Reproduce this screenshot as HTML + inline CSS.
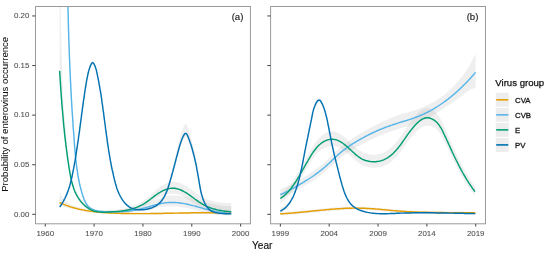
<!DOCTYPE html>
<html><head><meta charset="utf-8"><style>
html,body{margin:0;padding:0;background:#fff;width:550px;height:253px;overflow:hidden}
svg{display:block;filter:blur(0.35px)}
text{font-family:'Liberation Sans', Arial, Helvetica, sans-serif}
.tk{font-size:7.9px;fill:#505050;stroke:#505050;stroke-width:0.08px}
.at{font-size:10.1px;fill:#111;stroke:#111;stroke-width:0.15px}
.lt{font-size:9.6px;fill:#111;stroke:#111;stroke-width:0.25px}
.lg{font-size:7.8px;fill:#1a1a1a;stroke:#1a1a1a;stroke-width:0.3px}
.tag{font-size:9.6px;fill:#1a1a1a;stroke:#1a1a1a;stroke-width:0.15px}
</style></head><body>
<svg width="550" height="253" viewBox="0 0 550 253">
<defs>
<clipPath id="ca"><rect x="35.5" y="6.5" width="214.90" height="217.30"/></clipPath>
<clipPath id="cb"><rect x="270.6" y="6.5" width="214.90" height="217.30"/></clipPath>
</defs>
<rect x="0" y="0" width="550" height="253" fill="#ffffff"/>
<g clip-path="url(#ca)">
<path d="M59.5,192.5 60.1,193.2 60.7,194.3 61.3,195.4 61.9,196.5 62.6,197.4 63.2,198.2 63.8,199.0 64.4,199.8 65.1,200.6 65.7,201.4 66.3,202.0 66.9,202.3 67.6,202.7 68.2,203.1 68.8,203.5 69.5,203.9 70.1,204.2 70.7,204.6 71.4,204.9 72.0,205.3 72.6,205.5 73.3,205.7 73.9,205.9 74.6,206.1 75.2,206.3 75.8,206.5 76.5,206.7 77.1,206.9 77.8,207.1 78.4,207.2 79.1,207.4 79.7,207.6 80.4,207.7 81.0,207.9 81.7,208.1 82.3,208.2 83.0,208.4 83.6,208.5 84.3,208.7 85.0,208.8 85.6,208.9 86.3,209.1 86.9,209.2 87.6,209.3 88.2,209.5 88.9,209.6 89.6,209.7 90.2,209.8 90.9,209.9 91.5,210.0 92.2,210.2 92.9,210.3 93.5,210.4 94.2,210.5 94.9,210.6 95.5,210.7 96.2,210.8 96.8,210.8 97.5,210.9 98.2,211.0 98.8,211.1 99.5,211.2 100.2,211.3 100.8,211.3 101.5,211.4 102.2,211.4 102.8,211.5 103.5,211.5 104.2,211.6 104.8,211.6 105.5,211.7 106.2,211.7 106.8,211.7 107.5,211.8 108.2,211.8 108.9,211.9 109.5,211.9 110.2,211.9 110.9,212.0 111.5,212.0 112.2,212.0 112.9,212.1 113.5,212.1 114.2,212.1 114.9,212.1 115.5,212.2 116.2,212.2 116.9,212.2 117.5,212.3 118.2,212.3 118.9,212.3 119.6,212.3 120.2,212.3 120.9,212.4 121.6,212.4 122.2,212.4 122.9,212.4 123.6,212.4 124.2,212.4 124.9,212.5 125.6,212.5 126.2,212.5 126.9,212.5 127.6,212.5 128.2,212.5 128.9,212.5 129.6,212.5 130.3,212.6 130.9,212.6 131.6,212.6 132.3,212.6 132.9,212.6 133.6,212.6 134.3,212.6 134.9,212.6 135.6,212.6 136.3,212.6 136.9,212.6 137.6,212.6 138.3,212.6 138.9,212.6 139.6,212.6 140.3,212.6 141.0,212.6 141.6,212.6 142.3,212.6 143.0,212.6 143.6,212.6 144.3,212.6 145.0,212.6 145.6,212.6 146.3,212.6 147.0,212.6 147.6,212.6 148.3,212.6 149.0,212.6 149.6,212.6 150.3,212.6 151.0,212.5 151.6,212.5 152.3,212.5 153.0,212.5 153.7,212.5 154.3,212.5 155.0,212.5 155.7,212.5 156.3,212.5 157.0,212.5 157.7,212.4 158.3,212.4 159.0,212.4 159.7,212.4 160.3,212.4 161.0,212.4 161.7,212.4 162.3,212.4 163.0,212.4 163.7,212.3 164.4,212.3 165.0,212.3 165.7,212.3 166.4,212.3 167.0,212.3 167.7,212.3 168.4,212.3 169.0,212.2 169.7,212.2 170.4,212.2 171.0,212.2 171.7,212.2 172.4,212.2 173.0,212.2 173.7,212.1 174.4,212.1 175.1,212.1 175.7,212.1 176.4,212.1 177.1,212.1 177.7,212.1 178.4,212.1 179.1,212.0 179.7,212.0 180.4,212.0 181.1,212.0 181.7,212.0 182.4,212.0 183.1,212.0 183.7,211.9 184.4,211.9 185.1,211.9 185.7,211.9 186.4,211.9 187.1,211.9 187.8,211.9 188.4,211.9 189.1,211.9 189.8,211.9 190.4,211.8 191.1,211.8 191.8,211.8 192.4,211.8 193.1,211.8 193.8,211.8 194.4,211.8 195.1,211.8 195.8,211.8 196.4,211.8 197.1,211.8 197.8,211.8 198.5,211.7 199.1,211.7 199.8,211.7 200.5,211.7 201.1,211.7 201.8,211.7 202.5,211.7 203.1,211.7 203.8,211.7 204.5,211.7 205.1,211.7 205.8,211.7 206.5,211.7 207.1,211.7 207.8,211.7 208.5,211.7 209.1,211.7 209.8,211.7 210.5,211.7 211.1,211.7 211.8,211.7 212.5,211.7 213.2,211.8 213.8,211.8 214.5,211.8 215.2,211.8 215.8,211.8 216.5,211.8 217.2,211.8 217.8,211.8 218.5,211.8 219.2,211.8 219.8,211.9 220.5,211.9 221.2,211.9 221.8,211.9 222.5,211.9 223.2,211.9 223.8,211.9 224.5,212.0 225.2,212.0 225.8,212.0 226.5,212.0 227.2,212.1 227.9,212.1 228.5,212.1 229.2,212.1 229.9,212.2 230.5,212.2 231.2,212.2 231.2,214.2 230.5,214.2 229.9,214.2 229.2,214.1 228.5,214.1 227.9,214.1 227.2,214.1 226.5,214.0 225.8,214.0 225.2,214.0 224.5,214.0 223.8,213.9 223.2,213.9 222.5,213.9 221.8,213.9 221.2,213.9 220.5,213.9 219.8,213.9 219.2,213.8 218.5,213.8 217.8,213.8 217.2,213.8 216.5,213.8 215.8,213.8 215.2,213.8 214.5,213.8 213.8,213.8 213.2,213.8 212.5,213.7 211.8,213.7 211.1,213.7 210.5,213.7 209.8,213.7 209.1,213.7 208.5,213.7 207.8,213.7 207.1,213.7 206.5,213.7 205.8,213.7 205.1,213.7 204.5,213.7 203.8,213.7 203.1,213.7 202.5,213.7 201.8,213.7 201.1,213.7 200.5,213.7 199.8,213.7 199.1,213.7 198.5,213.7 197.8,213.8 197.1,213.8 196.4,213.8 195.8,213.8 195.1,213.8 194.4,213.8 193.8,213.8 193.1,213.8 192.4,213.8 191.8,213.8 191.1,213.8 190.4,213.8 189.8,213.9 189.1,213.9 188.4,213.9 187.8,213.9 187.1,213.9 186.4,213.9 185.7,213.9 185.1,213.9 184.4,213.9 183.7,213.9 183.1,214.0 182.4,214.0 181.7,214.0 181.1,214.0 180.4,214.0 179.7,214.0 179.1,214.0 178.4,214.1 177.7,214.1 177.1,214.1 176.4,214.1 175.7,214.1 175.1,214.1 174.4,214.1 173.7,214.1 173.0,214.2 172.4,214.2 171.7,214.2 171.0,214.2 170.4,214.2 169.7,214.2 169.0,214.2 168.4,214.3 167.7,214.3 167.0,214.3 166.4,214.3 165.7,214.3 165.0,214.3 164.4,214.3 163.7,214.3 163.0,214.4 162.3,214.4 161.7,214.4 161.0,214.4 160.3,214.4 159.7,214.4 159.0,214.4 158.3,214.4 157.7,214.4 157.0,214.5 156.3,214.5 155.7,214.5 155.0,214.5 154.3,214.5 153.7,214.5 153.0,214.5 152.3,214.5 151.6,214.5 151.0,214.5 150.3,214.6 149.6,214.6 149.0,214.6 148.3,214.6 147.6,214.6 147.0,214.6 146.3,214.6 145.6,214.6 145.0,214.6 144.3,214.6 143.6,214.6 143.0,214.6 142.3,214.6 141.6,214.6 141.0,214.6 140.3,214.6 139.6,214.6 138.9,214.6 138.3,214.6 137.6,214.6 136.9,214.6 136.3,214.6 135.6,214.6 134.9,214.6 134.3,214.6 133.6,214.6 132.9,214.6 132.3,214.6 131.6,214.6 130.9,214.6 130.3,214.6 129.6,214.5 128.9,214.5 128.2,214.5 127.6,214.5 126.9,214.5 126.2,214.5 125.6,214.5 124.9,214.5 124.2,214.4 123.6,214.4 122.9,214.4 122.2,214.4 121.6,214.4 120.9,214.4 120.2,214.3 119.6,214.3 118.9,214.3 118.2,214.3 117.5,214.3 116.9,214.2 116.2,214.2 115.5,214.2 114.9,214.1 114.2,214.1 113.5,214.1 112.9,214.1 112.2,214.0 111.5,214.0 110.9,214.0 110.2,213.9 109.5,213.9 108.9,213.9 108.2,213.8 107.5,213.8 106.8,213.7 106.2,213.7 105.5,213.7 104.8,213.6 104.2,213.6 103.5,213.5 102.8,213.5 102.2,213.4 101.5,213.4 100.8,213.3 100.2,213.3 99.5,213.2 98.8,213.2 98.2,213.1 97.5,213.1 96.8,213.0 96.2,213.0 95.5,212.9 94.9,212.8 94.2,212.8 93.5,212.7 92.9,212.6 92.2,212.6 91.5,212.5 90.9,212.4 90.2,212.3 89.6,212.3 88.9,212.2 88.2,212.1 87.6,212.0 86.9,211.9 86.3,211.8 85.6,211.7 85.0,211.6 84.3,211.5 83.6,211.4 83.0,211.3 82.3,211.2 81.7,211.0 81.0,210.9 80.4,210.8 79.7,210.7 79.1,210.5 78.4,210.4 77.8,210.3 77.1,210.1 76.5,210.0 75.8,209.8 75.2,209.7 74.6,209.5 73.9,209.3 73.3,209.2 72.6,209.0 72.0,208.8 71.4,208.7 70.7,208.5 70.1,208.4 69.5,208.2 68.8,208.0 68.2,207.9 67.6,207.7 66.9,207.5 66.3,207.4 65.7,207.2 65.1,207.0 64.4,206.9 63.8,206.7 63.2,206.5 62.6,206.3 61.9,206.1 61.3,206.0 60.7,205.9 60.1,205.7 59.5,205.5 Z" fill="#999999" fill-opacity="0.16" stroke="none"/>
<path d="M67.6,-22.0 67.6,-20.5 67.6,-19.1 67.6,-17.6 67.7,-16.2 67.7,-14.8 67.7,-13.3 67.7,-11.9 67.7,-10.4 67.8,-9.0 67.8,-7.5 67.8,-6.1 67.8,-4.6 67.9,-3.2 67.9,-1.7 67.9,-0.3 67.9,1.2 68.0,2.6 68.0,4.1 68.0,5.5 68.0,7.0 68.1,8.4 68.1,9.9 68.1,11.3 68.2,12.8 68.2,14.2 68.2,15.7 68.3,17.1 68.3,18.5 68.3,20.0 68.4,21.4 68.4,22.9 68.4,24.3 68.5,25.8 68.5,27.2 68.6,28.7 68.6,30.1 68.7,31.6 68.7,33.0 68.7,34.5 68.8,35.9 68.8,37.4 68.9,38.8 68.9,40.3 69.0,41.7 69.0,43.2 69.1,44.6 69.1,46.1 69.2,47.5 69.2,49.0 69.3,50.4 69.3,51.9 69.4,53.3 69.4,54.8 69.5,56.2 69.6,57.7 69.6,59.1 69.7,60.6 69.7,62.0 69.8,63.5 69.9,64.9 69.9,66.4 70.0,67.8 70.0,69.3 70.1,70.7 70.2,72.2 70.2,73.6 70.3,75.1 70.4,76.5 70.4,78.0 70.5,79.4 70.6,80.9 70.7,82.3 70.7,83.8 70.8,85.2 70.9,86.6 71.0,88.1 71.0,89.5 71.1,91.0 71.2,92.4 71.3,93.9 71.3,95.3 71.4,96.8 71.5,98.2 71.6,99.7 71.7,101.1 71.8,102.6 71.8,104.0 71.9,105.5 72.0,106.9 72.1,108.3 72.2,109.8 72.3,111.2 72.4,112.7 72.5,114.1 72.6,115.6 72.7,117.0 72.8,118.5 72.9,119.9 73.0,121.4 73.0,122.8 73.1,124.2 73.2,125.7 73.3,127.1 73.5,128.6 73.6,130.0 73.7,131.5 73.8,132.9 73.9,134.3 74.0,135.8 74.1,137.2 74.2,138.7 74.3,140.1 74.4,141.6 74.5,143.0 74.6,144.4 74.8,145.9 74.9,147.3 75.0,148.8 75.1,150.2 75.3,151.6 75.4,153.1 75.5,154.5 75.7,156.0 75.8,157.4 76.0,158.8 76.1,160.3 76.3,161.7 76.5,163.2 76.7,164.6 76.8,166.0 77.0,167.5 77.3,168.9 77.5,170.3 77.7,171.8 77.9,173.2 78.2,174.6 78.4,176.1 78.7,177.5 79.0,178.9 79.3,180.4 79.6,181.8 79.9,183.2 80.3,184.7 80.6,186.1 81.0,187.6 81.4,189.0 81.8,190.4 82.2,191.9 82.6,193.3 83.1,194.8 83.6,196.2 84.1,197.6 84.6,198.9 85.3,200.2 85.9,201.5 86.6,202.7 87.4,203.8 88.3,204.8 89.2,205.8 90.3,206.7 91.4,207.4 92.6,208.1 93.9,208.7 95.2,209.2 96.6,209.6 98.1,209.9 99.6,210.2 101.1,210.3 102.7,210.3 104.3,210.4 105.8,210.3 107.4,210.3 108.9,210.3 110.4,210.2 111.9,210.2 113.4,210.1 114.9,210.0 116.4,210.0 117.8,209.9 119.3,209.8 120.7,209.6 122.2,209.5 123.6,209.3 125.0,209.2 126.4,209.0 127.8,208.8 129.2,208.6 130.6,208.3 132.0,208.1 133.4,207.8 134.8,207.5 136.2,207.1 137.6,206.8 139.0,206.4 140.4,205.9 141.8,205.4 143.2,204.8 144.6,204.3 146.0,203.7 147.5,203.1 148.9,202.5 150.3,201.9 151.7,201.3 153.1,200.7 154.5,200.1 155.9,199.6 157.3,199.0 158.8,198.5 160.2,198.0 161.6,197.5 163.0,197.1 164.4,196.7 165.9,196.3 167.3,195.9 168.7,195.6 170.1,195.4 171.5,195.4 172.9,195.4 174.4,195.4 175.8,195.5 177.2,195.6 178.6,195.8 180.0,196.0 181.4,196.2 182.9,196.4 184.3,196.6 185.7,196.9 187.1,197.2 188.5,197.5 190.0,197.9 191.4,198.2 192.8,198.6 194.2,198.9 195.6,199.3 197.0,199.7 198.5,200.1 199.9,200.5 201.3,200.9 202.7,201.3 204.1,201.7 205.5,202.0 207.0,202.4 208.4,202.8 209.8,203.2 211.2,203.5 212.6,203.8 214.1,204.2 215.5,204.5 216.9,204.8 218.3,205.0 219.8,205.3 221.2,205.5 222.6,205.7 224.0,205.8 225.4,206.0 226.9,206.1 228.3,206.1 229.7,206.2 231.2,206.1 231.2,215.1 229.7,215.2 228.3,215.3 226.9,215.3 225.4,215.3 224.0,215.3 222.6,215.2 221.2,215.1 219.8,215.0 218.3,214.8 216.9,214.7 215.5,214.5 214.1,214.3 212.6,214.0 211.2,213.8 209.8,213.5 208.4,213.3 207.0,213.0 205.5,212.7 204.1,212.4 202.7,212.1 201.3,211.8 199.9,211.5 198.5,211.1 197.0,210.7 195.6,210.3 194.2,209.9 192.8,209.6 191.4,209.2 190.0,208.9 188.5,208.5 187.1,208.2 185.7,207.9 184.3,207.6 182.9,207.4 181.4,207.2 180.0,207.0 178.6,206.8 177.2,206.6 175.8,206.5 174.4,206.4 172.9,206.4 171.5,206.4 170.1,206.4 168.7,206.4 167.3,206.4 165.9,206.5 164.4,206.6 163.0,206.7 161.6,206.9 160.2,207.0 158.8,207.3 157.3,207.5 155.9,207.8 154.5,208.1 153.1,208.3 151.7,208.6 150.3,209.0 148.9,209.3 147.5,209.6 146.0,209.9 144.6,210.2 143.2,210.5 141.8,210.8 140.4,211.0 139.0,211.3 137.6,211.6 136.2,211.8 134.8,212.1 133.4,212.3 132.0,212.5 130.6,212.6 129.2,212.8 127.8,212.9 126.4,213.0 125.0,213.1 123.6,213.1 122.2,213.2 120.7,213.2 119.3,213.2 117.8,213.2 116.4,213.2 114.9,213.2 113.4,213.1 111.9,213.1 110.4,213.0 108.9,212.9 107.4,212.9 105.8,212.8 104.3,212.7 102.7,212.6 101.1,212.4 99.6,212.2 98.1,212.1 96.6,211.9 95.2,211.6 93.9,211.3 92.6,210.8 91.4,210.3 90.3,209.6 89.2,208.9 88.3,208.0 87.4,207.1 86.6,206.0 85.9,204.9 85.3,203.7 84.6,202.5 84.1,201.2 83.6,199.8 83.1,198.5 82.6,197.1 82.2,195.7 81.8,194.3 81.4,192.9 81.0,191.5 80.6,190.0 80.3,188.6 79.9,187.2 79.6,185.8 79.3,184.4 79.0,182.9 78.7,181.5 78.4,180.1 78.2,178.6 77.9,177.2 77.7,175.8 77.5,174.3 77.3,172.9 77.0,171.5 76.8,170.0 76.7,168.6 76.5,167.2 76.3,165.7 76.1,164.3 76.0,162.8 75.8,161.4 75.7,160.0 75.5,158.5 75.4,157.1 75.3,155.6 75.1,154.2 75.0,152.8 74.9,151.3 74.8,149.9 74.6,148.4 74.5,147.0 74.4,145.6 74.3,144.1 74.2,142.7 74.1,141.2 74.0,139.8 73.9,138.3 73.8,136.9 73.7,135.5 73.6,134.0 73.5,132.6 73.3,131.1 73.2,129.7 73.1,128.2 73.0,126.8 73.0,125.4 72.9,123.9 72.8,122.5 72.7,121.0 72.6,119.6 72.5,118.1 72.4,116.7 72.3,115.2 72.2,113.8 72.1,112.3 72.0,110.9 71.9,109.5 71.8,108.0 71.8,106.6 71.7,105.1 71.6,103.7 71.5,102.2 71.4,100.8 71.3,99.3 71.3,97.9 71.2,96.4 71.1,95.0 71.0,93.5 71.0,92.1 70.9,90.6 70.8,89.2 70.7,87.8 70.7,86.3 70.6,84.9 70.5,83.4 70.4,82.0 70.4,80.5 70.3,79.1 70.2,77.6 70.2,76.2 70.1,74.7 70.0,73.3 70.0,71.8 69.9,70.4 69.9,68.9 69.8,67.5 69.7,66.0 69.7,64.6 69.6,63.1 69.6,61.7 69.5,60.2 69.4,58.8 69.4,57.3 69.3,55.9 69.3,54.4 69.2,53.0 69.2,51.5 69.1,50.1 69.1,48.6 69.0,47.2 69.0,45.7 68.9,44.3 68.9,42.8 68.8,41.4 68.8,39.9 68.7,38.5 68.7,37.0 68.7,35.6 68.6,34.1 68.6,32.7 68.5,31.2 68.5,29.8 68.4,28.3 68.4,26.9 68.4,25.4 68.3,24.0 68.3,22.5 68.3,21.1 68.2,19.7 68.2,18.2 68.2,16.8 68.1,15.3 68.1,13.9 68.1,12.4 68.0,11.0 68.0,9.5 68.0,8.1 68.0,6.6 67.9,5.2 67.9,3.7 67.9,2.3 67.9,0.8 67.8,-0.6 67.8,-2.1 67.8,-3.5 67.8,-5.0 67.7,-6.4 67.7,-7.9 67.7,-9.3 67.7,-10.8 67.7,-12.2 67.6,-13.6 67.6,-15.1 67.6,-16.5 67.6,-18.0 Z" fill="#999999" fill-opacity="0.16" stroke="none"/>
<path d="M59.6,-129.1 59.7,-127.9 59.8,-119.4 59.8,-110.4 59.9,-101.4 60.0,-92.4 60.1,-83.3 60.1,-74.1 60.2,-64.9 60.3,-55.7 60.4,-46.4 60.4,-37.1 60.5,-27.7 60.6,-18.3 60.7,-8.8 60.7,0.8 60.8,10.4 60.9,20.1 61.0,29.9 61.1,34.2 61.1,37.0 61.2,39.8 61.3,42.6 61.4,45.4 61.5,48.3 61.6,51.1 61.7,54.0 61.7,56.9 61.8,59.8 61.9,62.7 62.0,65.7 62.1,68.7 62.2,71.6 62.3,74.6 62.4,77.7 62.5,80.7 62.6,83.8 62.7,86.9 62.8,90.0 62.9,93.2 63.0,96.3 63.1,98.3 63.2,99.7 63.3,101.1 63.4,102.5 63.5,103.9 63.6,105.3 63.7,106.7 63.8,108.2 63.9,109.6 64.1,111.0 64.2,112.4 64.3,113.8 64.4,115.3 64.5,116.7 64.6,118.1 64.8,119.6 64.9,121.0 65.0,122.5 65.2,124.0 65.3,125.4 65.4,126.9 65.6,128.3 65.7,129.8 65.8,131.3 66.0,132.8 66.1,134.3 66.3,135.8 66.4,137.3 66.5,138.8 66.7,140.3 66.9,141.8 67.0,143.3 67.2,144.9 67.3,146.4 67.5,147.9 67.6,149.5 67.8,151.0 68.0,152.6 68.1,154.1 68.3,155.7 68.5,157.3 68.7,158.9 68.8,160.4 69.0,162.0 69.2,163.6 69.4,165.2 69.6,166.9 69.8,168.5 70.0,170.1 70.2,171.4 70.4,172.5 70.6,173.7 70.8,174.8 71.1,176.0 71.3,177.2 71.6,178.3 71.9,179.4 72.2,180.6 72.5,181.7 72.8,182.8 73.2,183.9 73.5,185.1 73.9,186.2 74.3,187.3 74.7,188.3 75.2,189.4 75.7,190.5 76.1,191.5 76.7,192.6 77.2,193.6 77.8,194.6 78.4,195.6 79.0,196.6 79.7,197.6 80.3,198.5 81.1,199.5 81.8,200.4 82.6,201.3 83.4,202.2 84.2,203.0 85.1,203.9 86.0,204.7 86.9,205.4 87.8,206.1 88.8,206.8 89.7,207.5 90.8,208.1 91.8,208.6 92.8,209.1 93.9,209.6 95.0,210.0 96.1,210.3 97.2,210.6 98.4,210.8 99.5,211.0 100.7,211.1 101.9,211.1 103.1,211.0 104.2,211.0 105.4,210.9 106.6,210.8 107.8,210.7 109.0,210.6 110.2,210.4 111.3,210.3 112.5,210.2 113.7,210.1 114.8,209.9 116.0,209.8 117.1,209.6 118.3,209.5 119.4,209.3 120.6,209.1 121.7,208.9 122.9,208.7 124.0,208.4 125.2,208.2 126.3,207.9 127.4,207.7 128.6,207.4 129.7,207.0 130.8,206.7 131.9,206.4 133.0,206.0 134.1,205.6 135.2,205.2 136.3,204.7 137.3,204.3 138.4,203.8 139.4,203.3 140.4,202.7 141.5,202.1 142.5,201.4 143.5,200.7 144.4,200.0 145.4,199.3 146.4,198.6 147.3,197.8 148.2,197.0 149.2,196.2 150.1,195.4 151.0,194.6 151.9,193.7 152.9,192.9 153.8,192.1 154.7,191.3 155.7,190.5 156.6,189.7 157.6,188.9 158.6,188.2 159.6,187.5 160.6,186.7 161.6,186.1 162.6,185.4 163.7,184.8 164.8,184.2 165.9,183.7 167.0,183.2 168.1,182.8 169.2,182.4 170.3,182.1 171.4,181.9 172.5,181.7 173.6,181.7 174.7,181.8 175.7,181.9 176.8,182.1 177.8,182.3 178.9,182.6 179.9,183.0 180.9,183.4 182.0,183.8 183.0,184.3 184.0,184.8 185.0,185.4 186.0,186.0 187.0,186.6 188.0,187.2 188.9,187.9 189.9,188.6 190.9,189.3 191.9,190.0 192.9,190.7 193.9,191.4 194.8,192.1 195.8,192.8 196.8,193.5 197.8,194.1 198.8,194.8 199.8,195.5 200.7,196.0 201.7,196.6 202.7,197.1 203.7,197.7 204.7,198.1 205.8,198.6 206.8,199.0 207.8,199.4 208.8,199.8 209.9,200.2 210.9,200.5 212.0,200.8 213.0,201.1 214.1,201.4 215.2,201.6 216.3,201.8 217.3,202.0 218.4,202.2 219.6,202.4 220.7,202.5 221.8,202.7 223.0,202.8 224.1,202.9 225.3,203.0 226.5,203.0 227.6,203.1 228.8,203.1 230.1,203.1 231.3,203.2 231.3,214.7 230.1,214.7 228.8,214.6 227.6,214.6 226.5,214.6 225.3,214.5 224.1,214.5 223.0,214.4 221.8,214.3 220.7,214.2 219.6,214.1 218.4,213.9 217.3,213.8 216.3,213.6 215.2,213.4 214.1,213.1 213.0,212.9 212.0,212.6 210.9,212.3 209.9,212.0 208.8,211.7 207.8,211.3 206.8,210.9 205.8,210.5 204.7,210.1 203.7,209.6 202.7,209.1 201.7,208.6 200.7,208.0 199.8,207.5 198.8,206.8 197.8,206.1 196.8,205.5 195.8,204.8 194.8,204.1 193.9,203.4 192.9,202.7 191.9,202.0 190.9,201.3 189.9,200.6 188.9,199.9 188.0,199.2 187.0,198.6 186.0,198.0 185.0,197.4 184.0,196.8 183.0,196.3 182.0,195.8 180.9,195.4 179.9,195.0 178.9,194.6 177.8,194.3 176.8,194.1 175.7,193.9 174.7,193.8 173.6,193.7 172.5,193.7 171.4,193.7 170.3,193.7 169.2,193.8 168.1,193.9 167.0,194.1 165.9,194.4 164.8,194.7 163.7,195.0 162.6,195.4 161.6,195.8 160.6,196.2 159.6,196.7 158.6,197.2 157.6,197.8 156.6,198.3 155.7,198.9 154.7,199.5 153.8,200.1 152.9,200.7 151.9,201.4 151.0,202.0 150.1,202.6 149.2,203.2 148.2,203.8 147.3,204.4 146.4,204.9 145.4,205.5 144.4,206.0 143.5,206.5 142.5,207.0 141.5,207.4 140.4,207.8 139.4,208.2 138.4,208.6 137.3,209.1 136.3,209.4 135.2,209.8 134.1,210.1 133.0,210.5 131.9,210.7 130.8,211.0 129.7,211.3 128.6,211.5 127.4,211.7 126.3,211.9 125.2,212.1 124.0,212.2 122.9,212.4 121.7,212.5 120.6,212.6 119.4,212.7 118.3,212.8 117.1,212.9 116.0,213.0 114.8,213.0 113.7,213.1 112.5,213.1 111.3,213.2 110.2,213.2 109.0,213.2 107.8,213.3 106.6,213.3 105.4,213.3 104.2,213.3 103.1,213.3 101.9,213.2 100.7,213.1 99.5,213.1 98.4,213.0 97.2,212.9 96.1,212.7 95.0,212.5 93.9,212.2 92.8,211.8 91.8,211.4 90.8,211.0 89.7,210.5 88.8,209.9 87.8,209.4 86.9,208.7 86.0,208.1 85.1,207.4 84.2,206.6 83.4,205.9 82.6,205.1 81.8,204.2 81.1,203.4 80.3,202.5 79.7,201.6 79.0,200.7 78.4,199.8 77.8,198.8 77.2,197.9 76.7,196.9 76.1,195.9 75.7,194.9 75.2,193.9 74.7,192.9 74.3,191.8 73.9,190.8 73.5,189.7 73.2,188.6 72.8,187.5 72.5,186.5 72.2,185.4 71.9,184.3 71.6,183.1 71.3,182.0 71.1,180.9 70.8,179.8 70.6,178.6 70.4,177.5 70.2,176.3 70.0,175.2 69.8,174.0 69.6,172.9 69.4,171.7 69.2,170.6 69.0,169.4 68.8,168.3 68.7,167.1 68.5,166.0 68.3,164.8 68.1,163.6 68.0,162.5 67.8,161.3 67.6,160.2 67.5,159.0 67.3,157.9 67.2,156.7 67.0,155.6 66.9,154.5 66.7,153.3 66.5,152.2 66.4,151.0 66.3,149.9 66.1,148.7 66.0,147.6 65.8,146.4 65.7,145.3 65.6,144.1 65.4,143.0 65.3,141.9 65.2,140.7 65.0,139.6 64.9,138.4 64.8,137.3 64.6,136.1 64.5,135.0 64.4,133.9 64.3,132.7 64.2,131.6 64.1,130.4 63.9,129.3 63.8,128.2 63.7,127.0 63.6,125.9 63.5,124.7 63.4,123.6 63.3,122.4 63.2,121.3 63.1,120.2 63.0,119.0 62.9,117.9 62.8,116.8 62.7,115.8 62.6,114.7 62.5,113.6 62.4,112.5 62.3,111.4 62.2,110.3 62.1,109.2 62.0,108.1 61.9,107.0 61.8,105.9 61.7,104.8 61.7,103.7 61.6,102.6 61.5,101.5 61.4,100.4 61.3,99.2 61.2,98.1 61.1,97.0 61.1,95.9 61.0,94.8 60.9,93.7 60.8,92.6 60.7,91.5 60.7,90.4 60.6,89.3 60.5,88.2 60.4,87.2 60.4,86.1 60.3,85.0 60.2,83.8 60.1,82.7 60.1,81.6 60.0,80.5 59.9,79.4 59.8,78.3 59.8,77.2 59.7,76.1 59.6,74.9 Z" fill="#999999" fill-opacity="0.16" stroke="none"/>
<path d="M59.7,203.3 60.9,202.0 62.0,200.7 63.0,199.2 64.0,197.7 64.9,196.2 65.7,194.6 66.5,192.9 67.3,191.1 67.9,189.3 68.6,187.5 69.2,185.6 69.8,183.7 70.3,181.9 70.8,180.0 71.3,178.1 71.7,176.2 72.1,174.2 72.5,172.3 72.9,170.4 73.3,168.4 73.7,166.5 74.0,164.6 74.4,162.6 74.7,160.7 75.1,158.8 75.4,156.8 75.7,154.9 76.0,152.9 76.3,151.0 76.6,149.1 76.9,147.1 77.2,145.2 77.5,143.2 77.8,141.3 78.1,139.3 78.4,137.4 78.6,135.4 78.9,133.5 79.2,131.5 79.5,129.6 79.7,127.6 80.0,125.7 80.2,123.7 80.5,121.7 80.8,119.7 81.0,117.8 81.3,115.8 81.5,113.8 81.8,111.8 82.1,109.8 82.3,107.8 82.6,105.9 82.9,103.9 83.1,101.9 83.4,99.9 83.7,97.9 84.0,96.0 84.3,94.0 84.5,92.0 84.8,90.0 85.1,88.0 85.4,86.1 85.8,84.1 86.1,82.1 86.4,80.1 86.7,78.1 87.1,76.2 87.5,74.2 87.9,72.3 88.3,70.3 88.8,68.4 89.4,66.4 90.1,64.3 91.0,62.1 92.0,60.4 93.1,60.4 94.1,61.9 95.1,64.1 95.8,66.2 96.4,68.2 96.8,70.2 97.2,72.1 97.6,74.1 98.0,76.0 98.4,78.0 98.8,80.0 99.1,81.9 99.5,83.9 99.8,85.9 100.1,87.9 100.5,89.8 100.8,91.8 101.1,93.8 101.4,95.8 101.7,97.8 101.9,99.7 102.2,101.7 102.5,103.7 102.8,105.7 103.0,107.7 103.3,109.7 103.6,111.6 103.8,113.6 104.1,115.6 104.3,117.6 104.6,119.6 104.9,121.6 105.1,123.6 105.4,125.5 105.6,127.5 105.9,129.5 106.2,131.5 106.4,133.5 106.7,135.5 107.0,137.5 107.2,139.4 107.5,141.4 107.8,143.4 108.1,145.4 108.4,147.4 108.7,149.3 109.0,151.3 109.3,153.3 109.7,155.3 110.0,157.3 110.3,159.2 110.7,161.1 111.1,163.1 111.4,165.0 111.8,167.0 112.2,168.9 112.7,170.8 113.1,172.7 113.5,174.7 114.0,176.6 114.4,178.5 114.9,180.4 115.4,182.3 116.0,184.2 116.5,186.1 117.1,188.0 117.8,189.8 118.6,191.7 119.4,193.5 120.3,195.3 121.3,197.0 122.3,198.7 123.5,200.4 124.8,202.0 126.2,203.4 127.6,204.7 129.2,205.8 130.9,206.8 132.6,207.5 134.4,208.1 136.3,208.5 138.3,208.7 140.3,208.7 142.3,208.6 144.4,208.4 146.5,208.0 148.5,207.5 150.5,206.8 152.4,206.1 154.2,205.2 156.0,204.1 157.5,203.0 159.0,201.7 160.3,200.4 161.6,198.9 162.7,197.3 163.7,195.7 164.7,194.0 165.5,192.0 166.3,190.0 167.1,187.9 167.8,185.8 168.4,183.7 169.0,181.5 169.6,179.4 170.2,177.3 170.7,175.2 171.3,173.1 171.8,171.0 172.3,168.9 172.9,166.8 173.4,164.8 173.9,162.7 174.4,160.7 174.9,158.6 175.4,156.5 175.9,154.4 176.4,152.3 176.9,150.3 177.4,148.2 177.9,146.1 178.4,144.0 178.9,141.9 179.4,139.8 180.0,137.7 180.6,135.5 181.3,133.2 182.1,130.8 183.0,128.3 184.0,125.9 185.1,124.1 186.1,124.2 187.1,125.8 188.0,128.1 188.8,130.6 189.6,133.0 190.2,135.2 190.9,137.4 191.5,139.5 192.0,141.6 192.5,143.7 193.0,145.7 193.5,147.8 194.0,149.9 194.5,152.0 194.9,154.1 195.3,156.2 195.8,158.4 196.2,160.5 196.6,162.6 196.9,164.7 197.3,166.7 197.7,168.8 198.0,170.9 198.4,172.9 198.7,175.0 199.0,177.0 199.3,179.0 199.6,181.0 200.0,183.0 200.3,185.0 200.7,187.0 201.1,189.1 201.6,191.1 202.2,193.2 202.8,195.3 203.5,197.4 204.3,199.5 205.2,201.6 206.2,203.3 207.3,204.9 208.6,206.3 210.1,207.5 211.7,208.4 213.4,209.2 215.3,209.8 217.2,210.2 219.2,210.5 221.3,210.6 223.3,210.7 225.4,210.8 227.4,210.8 229.3,210.8 231.2,210.9 231.2,214.9 229.3,214.8 227.4,214.9 225.4,214.9 223.3,214.9 221.3,214.8 219.2,214.7 217.2,214.4 215.3,214.1 213.4,213.5 211.7,212.8 210.1,211.9 208.6,210.7 207.3,209.3 206.2,207.8 205.2,206.1 204.3,204.3 203.5,202.5 202.8,200.6 202.2,198.8 201.6,196.9 201.1,195.0 200.7,193.2 200.3,191.3 200.0,189.5 199.6,187.6 199.3,185.7 199.0,183.8 198.7,181.9 198.4,180.0 198.0,178.1 197.7,176.2 197.3,174.2 196.9,172.3 196.6,170.4 196.2,168.4 195.8,166.5 195.3,164.6 194.9,162.7 194.5,160.9 194.0,159.0 193.5,157.2 193.0,155.4 192.5,153.6 192.0,151.9 191.5,150.1 190.9,148.4 190.2,146.5 189.6,144.7 188.8,142.7 188.0,140.5 187.1,138.6 186.1,137.4 185.1,137.5 184.0,138.8 183.0,140.7 182.1,142.8 181.3,144.8 180.6,146.7 180.0,148.5 179.4,150.3 178.9,152.2 178.4,154.0 177.9,155.7 177.4,157.5 176.9,159.3 176.4,161.1 175.9,163.0 175.4,164.8 174.9,166.6 174.4,168.4 173.9,170.3 173.4,172.1 172.9,174.0 172.3,175.8 171.8,177.7 171.3,179.6 170.7,181.5 170.2,183.4 169.6,185.3 169.0,187.2 168.4,189.0 167.8,190.9 167.1,192.7 166.3,194.5 165.5,196.2 164.7,197.9 163.7,199.6 162.7,201.1 161.6,202.6 160.3,204.0 159.0,205.3 157.5,206.4 156.0,207.4 154.2,208.3 152.4,209.1 150.5,209.7 148.5,210.1 146.5,210.5 144.4,210.7 142.3,210.8 140.3,210.8 138.3,210.7 136.3,210.5 134.4,210.1 132.6,209.5 130.9,208.8 129.2,207.8 127.6,206.7 126.2,205.4 124.8,204.0 123.5,202.4 122.3,200.7 121.3,199.0 120.3,197.3 119.4,195.5 118.6,193.7 117.8,191.8 117.1,190.0 116.5,188.1 116.0,186.2 115.4,184.3 114.9,182.4 114.4,180.5 114.0,178.6 113.5,176.7 113.1,174.7 112.7,172.8 112.2,170.9 111.8,169.0 111.4,167.0 111.1,165.1 110.7,163.1 110.3,161.2 110.0,159.3 109.7,157.3 109.3,155.4 109.0,153.4 108.7,151.5 108.4,149.5 108.1,147.6 107.8,145.6 107.5,143.7 107.2,141.7 107.0,139.8 106.7,137.8 106.4,135.9 106.2,133.9 105.9,132.0 105.6,130.0 105.4,128.1 105.1,126.1 104.9,124.1 104.6,122.2 104.3,120.2 104.1,118.3 103.8,116.3 103.6,114.4 103.3,112.4 103.0,110.4 102.8,108.5 102.5,106.5 102.2,104.6 101.9,102.6 101.7,100.7 101.4,98.7 101.1,96.8 100.8,94.8 100.5,92.9 100.1,91.0 99.8,89.0 99.5,87.1 99.1,85.2 98.8,83.2 98.4,81.3 98.0,79.4 97.6,77.5 97.2,75.6 96.8,73.7 96.4,71.8 95.8,69.8 95.1,67.7 94.1,65.7 93.1,64.3 92.0,64.4 91.0,66.0 90.1,68.1 89.4,70.2 88.8,72.1 88.3,74.0 87.9,75.9 87.5,77.8 87.1,79.8 86.7,81.7 86.4,83.6 86.1,85.6 85.8,87.5 85.4,89.5 85.1,91.5 84.8,93.4 84.5,95.4 84.3,97.3 84.0,99.3 83.7,101.2 83.4,103.2 83.1,105.2 82.9,107.1 82.6,109.1 82.3,111.0 82.1,113.0 81.8,115.0 81.5,116.9 81.3,118.9 81.0,120.8 80.8,122.8 80.5,124.8 80.2,126.7 80.0,128.7 79.7,130.6 79.5,132.6 79.2,134.5 78.9,136.5 78.6,138.4 78.4,140.4 78.1,142.3 77.8,144.3 77.5,146.2 77.2,148.2 76.9,150.1 76.6,152.1 76.3,154.0 76.0,155.9 75.7,157.9 75.4,159.8 75.1,161.8 74.7,163.7 74.4,165.6 74.0,167.6 73.7,169.5 73.3,171.4 72.9,173.4 72.5,175.3 72.1,177.2 71.7,179.2 71.3,181.1 70.8,183.0 70.3,184.9 69.8,186.7 69.2,188.6 68.6,190.5 67.9,192.3 67.3,194.1 66.5,195.9 65.7,197.7 64.9,199.6 64.0,201.5 63.0,203.3 62.0,205.2 60.9,207.0 59.7,208.9 Z" fill="#999999" fill-opacity="0.16" stroke="none"/>
<path d="M59.5,202.5 60.1,202.8 60.7,203.1 61.3,203.3 61.9,203.6 62.6,203.9 63.2,204.1 63.8,204.4 64.4,204.7 65.1,204.9 65.7,205.1 66.3,205.4 66.9,205.6 67.6,205.8 68.2,206.1 68.8,206.3 69.5,206.5 70.1,206.7 70.7,206.9 71.4,207.1 72.0,207.3 72.6,207.5 73.3,207.7 73.9,207.9 74.6,208.0 75.2,208.2 75.8,208.4 76.5,208.5 77.1,208.7 77.8,208.9 78.4,209.0 79.1,209.2 79.7,209.3 80.4,209.4 81.0,209.6 81.7,209.7 82.3,209.9 83.0,210.0 83.6,210.1 84.3,210.2 85.0,210.3 85.6,210.5 86.3,210.6 86.9,210.7 87.6,210.8 88.2,210.9 88.9,211.0 89.6,211.1 90.2,211.2 90.9,211.3 91.5,211.3 92.2,211.4 92.9,211.5 93.5,211.6 94.2,211.7 94.9,211.7 95.5,211.8 96.2,211.9 96.8,212.0 97.5,212.0 98.2,212.1 98.8,212.1 99.5,212.2 100.2,212.3 100.8,212.3 101.5,212.4 102.2,212.4 102.8,212.5 103.5,212.5 104.2,212.6 104.8,212.6 105.5,212.7 106.2,212.7 106.8,212.7 107.5,212.8 108.2,212.8 108.9,212.9 109.5,212.9 110.2,212.9 110.9,213.0 111.5,213.0 112.2,213.0 112.9,213.1 113.5,213.1 114.2,213.1 114.9,213.1 115.5,213.2 116.2,213.2 116.9,213.2 117.5,213.3 118.2,213.3 118.9,213.3 119.6,213.3 120.2,213.3 120.9,213.4 121.6,213.4 122.2,213.4 122.9,213.4 123.6,213.4 124.2,213.4 124.9,213.5 125.6,213.5 126.2,213.5 126.9,213.5 127.6,213.5 128.2,213.5 128.9,213.5 129.6,213.5 130.3,213.6 130.9,213.6 131.6,213.6 132.3,213.6 132.9,213.6 133.6,213.6 134.3,213.6 134.9,213.6 135.6,213.6 136.3,213.6 136.9,213.6 137.6,213.6 138.3,213.6 138.9,213.6 139.6,213.6 140.3,213.6 141.0,213.6 141.6,213.6 142.3,213.6 143.0,213.6 143.6,213.6 144.3,213.6 145.0,213.6 145.6,213.6 146.3,213.6 147.0,213.6 147.6,213.6 148.3,213.6 149.0,213.6 149.6,213.6 150.3,213.6 151.0,213.5 151.6,213.5 152.3,213.5 153.0,213.5 153.7,213.5 154.3,213.5 155.0,213.5 155.7,213.5 156.3,213.5 157.0,213.5 157.7,213.4 158.3,213.4 159.0,213.4 159.7,213.4 160.3,213.4 161.0,213.4 161.7,213.4 162.3,213.4 163.0,213.4 163.7,213.3 164.4,213.3 165.0,213.3 165.7,213.3 166.4,213.3 167.0,213.3 167.7,213.3 168.4,213.3 169.0,213.2 169.7,213.2 170.4,213.2 171.0,213.2 171.7,213.2 172.4,213.2 173.0,213.2 173.7,213.1 174.4,213.1 175.1,213.1 175.7,213.1 176.4,213.1 177.1,213.1 177.7,213.1 178.4,213.1 179.1,213.0 179.7,213.0 180.4,213.0 181.1,213.0 181.7,213.0 182.4,213.0 183.1,213.0 183.7,212.9 184.4,212.9 185.1,212.9 185.7,212.9 186.4,212.9 187.1,212.9 187.8,212.9 188.4,212.9 189.1,212.9 189.8,212.9 190.4,212.8 191.1,212.8 191.8,212.8 192.4,212.8 193.1,212.8 193.8,212.8 194.4,212.8 195.1,212.8 195.8,212.8 196.4,212.8 197.1,212.8 197.8,212.8 198.5,212.7 199.1,212.7 199.8,212.7 200.5,212.7 201.1,212.7 201.8,212.7 202.5,212.7 203.1,212.7 203.8,212.7 204.5,212.7 205.1,212.7 205.8,212.7 206.5,212.7 207.1,212.7 207.8,212.7 208.5,212.7 209.1,212.7 209.8,212.7 210.5,212.7 211.1,212.7 211.8,212.7 212.5,212.7 213.2,212.8 213.8,212.8 214.5,212.8 215.2,212.8 215.8,212.8 216.5,212.8 217.2,212.8 217.8,212.8 218.5,212.8 219.2,212.8 219.8,212.9 220.5,212.9 221.2,212.9 221.8,212.9 222.5,212.9 223.2,212.9 223.8,212.9 224.5,213.0 225.2,213.0 225.8,213.0 226.5,213.0 227.2,213.1 227.9,213.1 228.5,213.1 229.2,213.1 229.9,213.2 230.5,213.2 231.2,213.2" fill="none" stroke="#E69F00" stroke-width="1.45" stroke-linejoin="round" stroke-linecap="butt"/>
<path d="M67.6,-20.0 67.6,-18.5 67.6,-17.1 67.6,-15.6 67.7,-14.2 67.7,-12.8 67.7,-11.3 67.7,-9.9 67.7,-8.4 67.8,-7.0 67.8,-5.5 67.8,-4.1 67.8,-2.6 67.9,-1.2 67.9,0.3 67.9,1.7 67.9,3.2 68.0,4.6 68.0,6.1 68.0,7.5 68.0,9.0 68.1,10.4 68.1,11.9 68.1,13.3 68.2,14.8 68.2,16.2 68.2,17.7 68.3,19.1 68.3,20.5 68.3,22.0 68.4,23.4 68.4,24.9 68.4,26.3 68.5,27.8 68.5,29.2 68.6,30.7 68.6,32.1 68.7,33.6 68.7,35.0 68.7,36.5 68.8,37.9 68.8,39.4 68.9,40.8 68.9,42.3 69.0,43.7 69.0,45.2 69.1,46.6 69.1,48.1 69.2,49.5 69.2,51.0 69.3,52.4 69.3,53.9 69.4,55.3 69.4,56.8 69.5,58.2 69.6,59.7 69.6,61.1 69.7,62.6 69.7,64.0 69.8,65.5 69.9,66.9 69.9,68.4 70.0,69.8 70.0,71.3 70.1,72.7 70.2,74.2 70.2,75.6 70.3,77.1 70.4,78.5 70.4,80.0 70.5,81.4 70.6,82.9 70.7,84.3 70.7,85.8 70.8,87.2 70.9,88.6 71.0,90.1 71.0,91.5 71.1,93.0 71.2,94.4 71.3,95.9 71.3,97.3 71.4,98.8 71.5,100.2 71.6,101.7 71.7,103.1 71.8,104.6 71.8,106.0 71.9,107.5 72.0,108.9 72.1,110.3 72.2,111.8 72.3,113.2 72.4,114.7 72.5,116.1 72.6,117.6 72.7,119.0 72.8,120.5 72.9,121.9 73.0,123.4 73.0,124.8 73.1,126.2 73.2,127.7 73.3,129.1 73.5,130.6 73.6,132.0 73.7,133.5 73.8,134.9 73.9,136.3 74.0,137.8 74.1,139.2 74.2,140.7 74.3,142.1 74.4,143.6 74.5,145.0 74.6,146.4 74.8,147.9 74.9,149.3 75.0,150.8 75.1,152.2 75.3,153.6 75.4,155.1 75.5,156.5 75.7,158.0 75.8,159.4 76.0,160.8 76.1,162.3 76.3,163.7 76.5,165.2 76.7,166.6 76.8,168.0 77.0,169.5 77.3,170.9 77.5,172.3 77.7,173.8 77.9,175.2 78.2,176.6 78.4,178.1 78.7,179.5 79.0,180.9 79.3,182.4 79.6,183.8 79.9,185.2 80.3,186.6 80.6,188.1 81.0,189.5 81.4,190.9 81.8,192.4 82.2,193.8 82.6,195.2 83.1,196.6 83.6,198.0 84.1,199.4 84.6,200.7 85.3,202.0 85.9,203.2 86.6,204.3 87.4,205.4 88.3,206.4 89.2,207.3 90.3,208.2 91.4,208.9 92.6,209.5 93.9,210.0 95.2,210.4 96.6,210.7 98.1,211.0 99.6,211.2 101.1,211.4 102.7,211.5 104.3,211.6 105.8,211.6 107.4,211.7 108.9,211.7 110.4,211.7 111.9,211.8 113.4,211.8 114.9,211.8 116.4,211.8 117.8,211.8 119.3,211.7 120.7,211.7 122.2,211.6 123.6,211.5 125.0,211.4 126.4,211.3 127.8,211.2 129.2,211.0 130.6,210.8 132.0,210.7 133.4,210.4 134.8,210.2 136.2,209.9 137.6,209.6 139.0,209.3 140.4,209.0 141.8,208.6 143.2,208.3 144.6,207.9 146.0,207.5 147.5,207.1 148.9,206.7 150.3,206.3 151.7,205.9 153.1,205.5 154.5,205.1 155.9,204.7 157.3,204.4 158.8,204.0 160.2,203.7 161.6,203.4 163.0,203.2 164.4,202.9 165.9,202.7 167.3,202.6 168.7,202.5 170.1,202.4 171.5,202.4 172.9,202.4 174.4,202.4 175.8,202.5 177.2,202.6 178.6,202.8 180.0,203.0 181.4,203.2 182.9,203.4 184.3,203.6 185.7,203.9 187.1,204.2 188.5,204.5 190.0,204.9 191.4,205.2 192.8,205.6 194.2,205.9 195.6,206.3 197.0,206.7 198.5,207.1 199.9,207.5 201.3,207.9 202.7,208.3 204.1,208.7 205.5,209.0 207.0,209.4 208.4,209.8 209.8,210.2 211.2,210.5 212.6,210.8 214.1,211.2 215.5,211.5 216.9,211.8 218.3,212.0 219.8,212.3 221.2,212.5 222.6,212.7 224.0,212.8 225.4,213.0 226.9,213.1 228.3,213.1 229.7,213.2 231.2,213.1" fill="none" stroke="#56B4E9" stroke-width="1.45" stroke-linejoin="round" stroke-linecap="butt"/>
<path d="M59.6,70.9 59.7,72.1 59.8,73.3 59.8,74.4 59.9,75.6 60.0,76.8 60.1,77.9 60.1,79.1 60.2,80.2 60.3,81.4 60.4,82.6 60.4,83.7 60.5,84.9 60.6,86.0 60.7,87.2 60.7,88.3 60.8,89.5 60.9,90.6 61.0,91.8 61.1,92.9 61.1,94.1 61.2,95.3 61.3,96.4 61.4,97.6 61.5,98.7 61.6,99.8 61.7,101.0 61.7,102.1 61.8,103.3 61.9,104.4 62.0,105.6 62.1,106.7 62.2,107.9 62.3,109.0 62.4,110.2 62.5,111.3 62.6,112.4 62.7,113.6 62.8,114.7 62.9,115.9 63.0,117.0 63.1,118.2 63.2,119.3 63.3,120.4 63.4,121.6 63.5,122.7 63.6,123.9 63.7,125.0 63.8,126.2 63.9,127.3 64.1,128.4 64.2,129.6 64.3,130.7 64.4,131.9 64.5,133.0 64.6,134.1 64.8,135.3 64.9,136.4 65.0,137.6 65.2,138.7 65.3,139.9 65.4,141.0 65.6,142.1 65.7,143.3 65.8,144.4 66.0,145.6 66.1,146.7 66.3,147.9 66.4,149.0 66.5,150.2 66.7,151.3 66.9,152.5 67.0,153.6 67.2,154.7 67.3,155.9 67.5,157.0 67.6,158.2 67.8,159.3 68.0,160.5 68.1,161.6 68.3,162.8 68.5,164.0 68.7,165.1 68.8,166.3 69.0,167.4 69.2,168.6 69.4,169.7 69.6,170.9 69.8,172.0 70.0,173.2 70.2,174.3 70.4,175.5 70.6,176.6 70.8,177.8 71.1,178.9 71.3,180.1 71.6,181.2 71.9,182.3 72.2,183.4 72.5,184.5 72.8,185.6 73.2,186.7 73.5,187.8 73.9,188.9 74.3,190.0 74.7,191.0 75.2,192.1 75.7,193.1 76.1,194.1 76.7,195.1 77.2,196.1 77.8,197.1 78.4,198.1 79.0,199.0 79.7,199.9 80.3,200.9 81.1,201.7 81.8,202.6 82.6,203.5 83.4,204.3 84.2,205.1 85.1,205.9 86.0,206.6 86.9,207.3 87.8,207.9 88.8,208.6 89.7,209.1 90.8,209.7 91.8,210.1 92.8,210.6 93.9,211.0 95.0,211.3 96.1,211.6 97.2,211.8 98.4,211.9 99.5,212.1 100.7,212.1 101.9,212.2 103.1,212.2 104.2,212.2 105.4,212.1 106.6,212.1 107.8,212.1 109.0,212.0 110.2,211.9 111.3,211.9 112.5,211.8 113.7,211.8 114.8,211.7 116.0,211.6 117.1,211.5 118.3,211.4 119.4,211.3 120.6,211.1 121.7,211.0 122.9,210.8 124.0,210.6 125.2,210.5 126.3,210.2 127.4,210.0 128.6,209.8 129.7,209.5 130.8,209.2 131.9,208.9 133.0,208.6 134.1,208.3 135.2,207.9 136.3,207.5 137.3,207.1 138.4,206.7 139.4,206.2 140.4,205.7 141.5,205.2 142.5,204.7 143.5,204.1 144.4,203.5 145.4,202.9 146.4,202.2 147.3,201.6 148.2,200.9 149.2,200.2 150.1,199.5 151.0,198.8 151.9,198.1 152.9,197.3 153.8,196.6 154.7,195.9 155.7,195.2 156.6,194.5 157.6,193.9 158.6,193.2 159.6,192.6 160.6,192.0 161.6,191.4 162.6,190.9 163.7,190.4 164.8,189.9 165.9,189.5 167.0,189.2 168.1,188.9 169.2,188.6 170.3,188.4 171.4,188.3 172.5,188.2 173.6,188.2 174.7,188.3 175.7,188.5 176.8,188.7 177.8,188.9 178.9,189.3 179.9,189.6 180.9,190.0 182.0,190.5 183.0,191.0 184.0,191.6 185.0,192.1 186.0,192.7 187.0,193.4 188.0,194.0 188.9,194.7 189.9,195.4 190.9,196.1 191.9,196.8 192.9,197.5 193.9,198.3 194.8,199.0 195.8,199.7 196.8,200.4 197.8,201.1 198.8,201.8 199.8,202.4 200.7,203.1 201.7,203.7 202.7,204.3 203.7,204.8 204.7,205.4 205.8,205.9 206.8,206.4 207.8,206.8 208.8,207.2 209.9,207.6 210.9,208.0 212.0,208.4 213.0,208.7 214.1,209.0 215.2,209.3 216.3,209.6 217.3,209.9 218.4,210.1 219.6,210.3 220.7,210.5 221.8,210.7 223.0,210.9 224.1,211.0 225.3,211.2 226.5,211.3 227.6,211.4 228.8,211.5 230.1,211.6 231.3,211.7" fill="none" stroke="#009E73" stroke-width="1.45" stroke-linejoin="round" stroke-linecap="butt"/>
<path d="M59.7,207.0 60.9,205.4 62.0,203.7 63.0,202.0 64.0,200.2 64.9,198.5 65.7,196.7 66.5,194.9 67.3,193.1 67.9,191.2 68.6,189.4 69.2,187.5 69.8,185.6 70.3,183.7 70.8,181.8 71.3,179.9 71.7,178.0 72.1,176.0 72.5,174.1 72.9,172.1 73.3,170.2 73.7,168.2 74.0,166.3 74.4,164.3 74.7,162.4 75.1,160.4 75.4,158.5 75.7,156.5 76.0,154.6 76.3,152.6 76.6,150.7 76.9,148.7 77.2,146.8 77.5,144.8 77.8,142.9 78.1,140.9 78.4,138.9 78.6,137.0 78.9,135.0 79.2,133.1 79.5,131.1 79.7,129.1 80.0,127.2 80.2,125.2 80.5,123.3 80.8,121.3 81.0,119.3 81.3,117.4 81.5,115.4 81.8,113.5 82.1,111.5 82.3,109.5 82.6,107.6 82.9,105.6 83.1,103.7 83.4,101.7 83.7,99.7 84.0,97.8 84.3,95.8 84.5,93.9 84.8,91.9 85.1,90.0 85.4,88.0 85.8,86.0 86.1,84.1 86.4,82.1 86.7,80.2 87.1,78.3 87.5,76.3 87.9,74.4 88.3,72.5 88.8,70.6 89.4,68.7 90.1,66.6 91.0,64.5 92.0,62.9 93.1,62.8 94.1,64.2 95.1,66.3 95.8,68.4 96.4,70.4 96.8,72.3 97.2,74.2 97.6,76.1 98.0,78.0 98.4,80.0 98.8,81.9 99.1,83.9 99.5,85.8 99.8,87.7 100.1,89.7 100.5,91.6 100.8,93.6 101.1,95.5 101.4,97.5 101.7,99.4 101.9,101.4 102.2,103.4 102.5,105.3 102.8,107.3 103.0,109.2 103.3,111.2 103.6,113.2 103.8,115.1 104.1,117.1 104.3,119.1 104.6,121.0 104.9,123.0 105.1,125.0 105.4,126.9 105.6,128.9 105.9,130.9 106.2,132.8 106.4,134.8 106.7,136.7 107.0,138.7 107.2,140.7 107.5,142.6 107.8,144.6 108.1,146.5 108.4,148.5 108.7,150.5 109.0,152.4 109.3,154.4 109.7,156.3 110.0,158.3 110.3,160.2 110.7,162.1 111.1,164.1 111.4,166.0 111.8,168.0 112.2,169.9 112.7,171.8 113.1,173.7 113.5,175.7 114.0,177.6 114.4,179.5 114.9,181.4 115.4,183.3 116.0,185.2 116.5,187.1 117.1,189.0 117.8,190.8 118.6,192.7 119.4,194.5 120.3,196.3 121.3,198.0 122.3,199.7 123.5,201.4 124.8,203.0 126.2,204.4 127.6,205.7 129.2,206.8 130.9,207.8 132.6,208.5 134.4,209.1 136.3,209.5 138.3,209.7 140.3,209.8 142.3,209.7 144.4,209.5 146.5,209.2 148.5,208.8 150.5,208.2 152.4,207.6 154.2,206.7 156.0,205.8 157.5,204.7 159.0,203.5 160.3,202.2 161.6,200.7 162.7,199.2 163.7,197.6 164.7,195.9 165.5,194.2 166.3,192.4 167.1,190.5 167.8,188.6 168.4,186.7 169.0,184.8 169.6,182.8 170.2,180.8 170.7,178.9 171.3,177.0 171.8,175.0 172.3,173.1 172.9,171.2 173.4,169.3 173.9,167.4 174.4,165.5 174.9,163.6 175.4,161.7 175.9,159.8 176.4,157.9 176.9,156.1 177.4,154.2 177.9,152.3 178.4,150.5 178.9,148.6 179.4,146.7 180.0,144.8 180.6,142.9 181.3,140.9 182.1,138.8 183.0,136.7 184.0,134.8 185.1,133.5 186.1,133.4 187.1,134.6 188.0,136.5 188.8,138.7 189.6,140.7 190.2,142.7 190.9,144.6 191.5,146.5 192.0,148.3 192.5,150.1 193.0,152.0 193.5,153.8 194.0,155.7 194.5,157.6 194.9,159.6 195.3,161.5 195.8,163.5 196.2,165.4 196.6,167.4 196.9,169.4 197.3,171.4 197.7,173.3 198.0,175.3 198.4,177.3 198.7,179.2 199.0,181.2 199.3,183.1 199.6,185.0 200.0,186.9 200.3,188.8 200.7,190.7 201.1,192.6 201.6,194.5 202.2,196.4 202.8,198.4 203.5,200.3 204.3,202.2 205.2,204.1 206.2,205.8 207.3,207.4 208.6,208.8 210.1,210.1 211.7,211.1 213.4,211.9 215.3,212.5 217.2,212.9 219.2,213.2 221.3,213.4 223.3,213.6 225.4,213.7 227.4,213.7 229.3,213.8 231.2,213.9" fill="none" stroke="#0072B2" stroke-width="1.45" stroke-linejoin="round" stroke-linecap="butt"/>
</g>
<g clip-path="url(#cb)">
<path d="M280.2,212.3 281.0,212.3 281.7,212.2 282.5,212.2 283.2,212.2 284.0,212.1 284.7,212.1 285.5,212.0 286.2,212.0 287.0,211.9 287.7,211.9 288.5,211.8 289.2,211.7 290.0,211.7 290.7,211.6 291.5,211.6 292.2,211.5 293.0,211.4 293.7,211.4 294.5,211.3 295.2,211.2 296.0,211.2 296.8,211.1 297.5,211.0 298.3,211.0 299.0,210.9 299.8,210.8 300.5,210.8 301.3,210.7 302.0,210.6 302.8,210.5 303.5,210.5 304.3,210.4 305.0,210.3 305.8,210.2 306.5,210.2 307.3,210.1 308.0,210.0 308.8,209.9 309.5,209.9 310.3,209.8 311.0,209.7 311.8,209.6 312.5,209.5 313.3,209.5 314.0,209.4 314.8,209.3 315.5,209.2 316.3,209.2 317.1,209.1 317.8,209.0 318.6,208.9 319.3,208.9 320.1,208.8 320.8,208.7 321.6,208.6 322.3,208.6 323.1,208.5 323.8,208.4 324.6,208.4 325.3,208.3 326.1,208.2 326.8,208.1 327.6,208.1 328.3,208.0 329.1,207.9 329.8,207.9 330.6,207.8 331.3,207.8 332.1,207.7 332.8,207.6 333.6,207.6 334.3,207.5 335.1,207.5 335.9,207.4 336.6,207.4 337.4,207.3 338.1,207.3 338.9,207.2 339.6,207.2 340.4,207.1 341.1,207.1 341.9,207.0 342.6,207.0 343.4,206.9 344.1,206.9 344.9,206.9 345.6,206.8 346.4,206.8 347.1,206.8 347.9,206.8 348.6,206.7 349.4,206.7 350.1,206.7 350.9,206.7 351.7,206.7 352.4,206.7 353.2,206.6 353.9,206.6 354.7,206.6 355.4,206.6 356.2,206.6 356.9,206.6 357.7,206.7 358.4,206.7 359.2,206.7 359.9,206.7 360.7,206.7 361.4,206.7 362.2,206.8 362.9,206.8 363.7,206.8 364.5,206.9 365.2,206.9 366.0,206.9 366.7,207.0 367.5,207.0 368.2,207.1 369.0,207.1 369.7,207.2 370.5,207.2 371.2,207.3 372.0,207.3 372.7,207.4 373.5,207.4 374.2,207.5 375.0,207.6 375.8,207.6 376.5,207.7 377.3,207.8 378.0,207.8 378.8,207.9 379.5,208.0 380.3,208.0 381.0,208.1 381.8,208.2 382.5,208.2 383.3,208.3 384.0,208.4 384.8,208.5 385.5,208.5 386.3,208.6 387.1,208.7 387.8,208.8 388.6,208.8 389.3,208.9 390.1,209.0 390.8,209.0 391.6,209.1 392.3,209.2 393.1,209.3 393.8,209.3 394.6,209.4 395.3,209.5 396.1,209.5 396.9,209.6 397.6,209.6 398.4,209.7 399.1,209.8 399.9,209.8 400.6,209.9 401.4,209.9 402.1,210.0 402.9,210.0 403.6,210.1 404.4,210.1 405.1,210.2 405.9,210.2 406.6,210.3 407.4,210.3 408.2,210.4 408.9,210.4 409.7,210.5 410.4,210.5 411.2,210.5 411.9,210.6 412.7,210.6 413.4,210.6 414.2,210.7 414.9,210.7 415.7,210.7 416.4,210.8 417.2,210.8 417.9,210.8 418.7,210.9 419.5,210.9 420.2,210.9 421.0,210.9 421.7,211.0 422.5,211.0 423.2,211.0 424.0,211.0 424.7,211.1 425.5,211.1 426.2,211.1 427.0,211.1 427.7,211.1 428.5,211.2 429.3,211.2 430.0,211.2 430.8,211.2 431.5,211.2 432.3,211.2 433.0,211.3 433.8,211.3 434.5,211.3 435.3,211.3 436.0,211.3 436.8,211.3 437.6,211.3 438.3,211.4 439.1,211.4 439.8,211.4 440.6,211.4 441.3,211.4 442.1,211.4 442.8,211.4 443.6,211.4 444.4,211.4 445.1,211.4 445.9,211.4 446.6,211.5 447.4,211.5 448.1,211.5 448.9,211.5 449.6,211.5 450.4,211.5 451.1,211.5 451.9,211.5 452.7,211.5 453.4,211.5 454.2,211.5 454.9,211.5 455.7,211.5 456.4,211.6 457.2,211.6 457.9,211.6 458.7,211.6 459.5,211.6 460.2,211.6 461.0,211.6 461.7,211.6 462.5,211.6 463.2,211.6 464.0,211.6 464.7,211.6 465.5,211.7 466.2,211.7 467.0,211.7 467.8,211.7 468.5,211.7 469.3,211.7 470.0,211.7 470.8,211.7 471.5,211.7 472.3,211.7 473.0,211.8 473.8,211.8 474.5,211.8 475.3,211.8 475.3,213.8 474.5,213.8 473.8,213.8 473.0,213.8 472.3,213.8 471.5,213.8 470.8,213.8 470.0,213.8 469.3,213.7 468.5,213.7 467.8,213.7 467.0,213.7 466.2,213.7 465.5,213.7 464.7,213.7 464.0,213.7 463.2,213.7 462.5,213.7 461.7,213.7 461.0,213.7 460.2,213.7 459.5,213.7 458.7,213.7 457.9,213.7 457.2,213.7 456.4,213.7 455.7,213.7 454.9,213.7 454.2,213.7 453.4,213.7 452.7,213.7 451.9,213.7 451.1,213.7 450.4,213.7 449.6,213.7 448.9,213.7 448.1,213.7 447.4,213.7 446.6,213.7 445.9,213.7 445.1,213.7 444.4,213.7 443.6,213.7 442.8,213.7 442.1,213.7 441.3,213.7 440.6,213.7 439.8,213.7 439.1,213.7 438.3,213.6 437.6,213.6 436.8,213.6 436.0,213.6 435.3,213.6 434.5,213.6 433.8,213.6 433.0,213.6 432.3,213.6 431.5,213.6 430.8,213.6 430.0,213.6 429.3,213.5 428.5,213.5 427.7,213.5 427.0,213.5 426.2,213.5 425.5,213.5 424.7,213.5 424.0,213.4 423.2,213.4 422.5,213.4 421.7,213.4 421.0,213.4 420.2,213.4 419.5,213.3 418.7,213.3 417.9,213.3 417.2,213.3 416.4,213.2 415.7,213.2 414.9,213.2 414.2,213.2 413.4,213.1 412.7,213.1 411.9,213.1 411.2,213.0 410.4,213.0 409.7,213.0 408.9,212.9 408.2,212.9 407.4,212.9 406.6,212.8 405.9,212.8 405.1,212.7 404.4,212.7 403.6,212.7 402.9,212.6 402.1,212.6 401.4,212.5 400.6,212.5 399.9,212.4 399.1,212.4 398.4,212.3 397.6,212.3 396.9,212.2 396.1,212.1 395.3,212.1 394.6,212.0 393.8,212.0 393.1,211.9 392.3,211.8 391.6,211.8 390.8,211.7 390.1,211.6 389.3,211.6 388.6,211.5 387.8,211.5 387.1,211.4 386.3,211.3 385.5,211.3 384.8,211.2 384.0,211.1 383.3,211.1 382.5,211.0 381.8,210.9 381.0,210.9 380.3,210.8 379.5,210.7 378.8,210.7 378.0,210.6 377.3,210.5 376.5,210.5 375.8,210.4 375.0,210.4 374.2,210.3 373.5,210.2 372.7,210.2 372.0,210.1 371.2,210.1 370.5,210.0 369.7,210.0 369.0,210.0 368.2,209.9 367.5,209.9 366.7,209.8 366.0,209.8 365.2,209.8 364.5,209.7 363.7,209.7 362.9,209.7 362.2,209.7 361.4,209.6 360.7,209.6 359.9,209.6 359.2,209.6 358.4,209.6 357.7,209.6 356.9,209.6 356.2,209.6 355.4,209.6 354.7,209.6 353.9,209.6 353.2,209.6 352.4,209.6 351.7,209.7 350.9,209.7 350.1,209.7 349.4,209.7 348.6,209.7 347.9,209.8 347.1,209.8 346.4,209.8 345.6,209.8 344.9,209.9 344.1,209.9 343.4,209.9 342.6,210.0 341.9,210.0 341.1,210.1 340.4,210.1 339.6,210.2 338.9,210.2 338.1,210.3 337.4,210.3 336.6,210.4 335.9,210.4 335.1,210.5 334.3,210.5 333.6,210.6 332.8,210.6 332.1,210.7 331.3,210.8 330.6,210.8 329.8,210.9 329.1,210.9 328.3,211.0 327.6,211.1 326.8,211.1 326.1,211.2 325.3,211.3 324.6,211.4 323.8,211.4 323.1,211.5 322.3,211.6 321.6,211.6 320.8,211.7 320.1,211.8 319.3,211.9 318.6,211.9 317.8,212.0 317.1,212.1 316.3,212.2 315.5,212.2 314.8,212.3 314.0,212.4 313.3,212.5 312.5,212.5 311.8,212.6 311.0,212.7 310.3,212.8 309.5,212.9 308.8,212.9 308.0,213.0 307.3,213.1 306.5,213.2 305.8,213.2 305.0,213.3 304.3,213.4 303.5,213.5 302.8,213.5 302.0,213.6 301.3,213.7 300.5,213.8 299.8,213.8 299.0,213.9 298.3,214.0 297.5,214.0 296.8,214.1 296.0,214.2 295.2,214.2 294.5,214.3 293.7,214.4 293.0,214.4 292.2,214.5 291.5,214.6 290.7,214.6 290.0,214.7 289.2,214.7 288.5,214.8 287.7,214.9 287.0,214.9 286.2,215.0 285.5,215.0 284.7,215.1 284.0,215.1 283.2,215.2 282.5,215.2 281.7,215.2 281.0,215.3 280.2,215.3 Z" fill="#999999" fill-opacity="0.16" stroke="none"/>
<path d="M280.3,189.2 281.1,188.9 281.9,188.6 282.8,188.2 283.6,187.9 284.4,187.6 285.2,187.2 286.0,186.9 286.8,186.5 287.6,186.2 288.4,185.8 289.2,185.4 290.0,185.0 290.8,184.7 291.6,184.3 292.4,183.9 293.2,183.5 293.9,183.1 294.7,182.6 295.5,182.2 296.3,181.8 297.1,181.4 297.9,181.0 298.6,180.6 299.4,180.1 300.2,179.7 301.0,179.2 301.7,178.7 302.5,178.3 303.3,177.8 304.1,177.3 304.8,176.8 305.6,176.3 306.4,175.8 307.1,175.3 307.9,174.8 308.7,174.3 309.4,173.8 310.2,173.3 310.9,172.8 311.7,172.3 312.4,171.8 313.2,171.3 313.9,170.7 314.6,170.2 315.4,169.7 316.1,169.1 316.8,168.6 317.6,168.1 318.3,167.5 319.0,167.0 319.7,166.4 320.4,165.8 321.1,165.3 321.8,164.7 322.5,164.1 323.2,163.5 323.9,163.0 324.6,162.4 325.3,161.8 325.9,161.2 326.6,160.6 327.3,160.0 327.9,159.3 328.6,158.7 329.3,158.1 329.9,157.5 330.6,156.8 331.2,156.2 331.9,155.6 332.5,154.9 333.2,154.3 333.8,153.7 334.5,153.0 335.1,152.4 335.8,151.7 336.4,151.1 337.1,150.5 337.7,149.9 338.4,149.2 339.1,148.6 339.8,148.0 340.4,147.4 341.1,146.8 341.8,146.2 342.5,145.7 343.2,145.1 343.9,144.5 344.7,144.0 345.4,143.4 346.1,142.9 346.8,142.3 347.6,141.8 348.3,141.2 349.1,140.7 349.8,140.2 350.6,139.7 351.3,139.2 352.1,138.6 352.8,138.1 353.6,137.6 354.4,137.2 355.1,136.7 355.9,136.2 356.7,135.7 357.5,135.2 358.2,134.7 359.0,134.3 359.8,133.8 360.6,133.3 361.4,132.9 362.2,132.4 363.0,132.0 363.7,131.5 364.5,131.1 365.3,130.6 366.1,130.2 366.9,129.7 367.7,129.3 368.5,128.9 369.3,128.5 370.2,128.0 371.0,127.6 371.8,127.1 372.6,126.7 373.4,126.3 374.2,125.8 375.0,125.4 375.9,125.0 376.7,124.5 377.5,124.1 378.3,123.7 379.1,123.3 380.0,122.9 380.8,122.5 381.6,122.1 382.5,121.7 383.3,121.3 384.1,120.9 385.0,120.5 385.8,120.2 386.7,119.8 387.5,119.4 388.4,119.0 389.2,118.7 390.1,118.3 390.9,118.0 391.8,117.6 392.6,117.3 393.5,116.9 394.3,116.6 395.2,116.3 396.1,115.9 396.9,115.6 397.8,115.3 398.6,115.0 399.5,114.6 400.4,114.4 401.2,114.1 402.1,113.9 403.0,113.6 403.8,113.4 404.7,113.2 405.5,112.9 406.4,112.7 407.3,112.4 408.1,112.2 409.0,112.0 409.8,111.7 410.7,111.4 411.5,111.2 412.4,110.9 413.2,110.7 414.1,110.4 414.9,110.1 415.8,109.8 416.6,109.5 417.5,109.3 418.3,109.0 419.1,108.6 420.0,108.3 420.8,108.0 421.6,107.7 422.4,107.4 423.2,107.0 424.1,106.7 424.9,106.3 425.7,105.9 426.5,105.6 427.3,105.2 428.1,104.8 428.9,104.4 429.7,104.0 430.5,103.6 431.2,103.2 432.0,102.8 432.8,102.3 433.6,101.9 434.4,101.4 435.1,100.9 435.9,100.5 436.7,100.0 437.4,99.5 438.2,99.0 438.9,98.5 439.7,98.0 440.4,97.5 441.2,97.0 441.9,96.5 442.7,96.0 443.4,95.5 444.1,95.0 444.9,94.4 445.6,93.9 446.3,93.3 447.0,92.6 447.8,92.0 448.5,91.3 449.2,90.6 449.9,90.0 450.6,89.3 451.3,88.6 452.0,87.9 452.7,87.2 453.4,86.4 454.1,85.7 454.8,85.0 455.4,84.2 456.1,83.5 456.8,82.7 457.5,82.0 458.1,81.2 458.8,80.4 459.5,79.6 460.1,78.8 460.8,78.0 461.4,77.2 462.1,76.4 462.7,75.6 463.4,74.7 464.0,73.9 464.7,73.0 465.3,72.0 465.9,71.0 466.5,70.1 467.2,69.1 467.8,68.2 468.4,67.2 469.0,66.2 469.6,65.3 470.2,64.2 470.8,63.1 471.4,61.9 472.0,60.8 472.6,59.6 473.2,58.4 473.8,57.3 474.4,56.1 475.0,55.0 475.6,53.9 475.6,87.4 475.0,87.7 474.4,87.9 473.8,88.2 473.2,88.4 472.6,88.7 472.0,88.9 471.4,89.1 470.8,89.4 470.2,89.6 469.6,90.0 469.0,90.4 468.4,90.9 467.8,91.3 467.2,91.8 466.5,92.2 465.9,92.6 465.3,93.1 464.7,93.5 464.0,93.9 463.4,94.5 462.7,95.0 462.1,95.5 461.4,96.0 460.8,96.5 460.1,97.1 459.5,97.6 458.8,98.1 458.1,98.6 457.5,99.1 456.8,99.6 456.1,100.0 455.4,100.5 454.8,101.0 454.1,101.5 453.4,102.0 452.7,102.4 452.0,102.9 451.3,103.3 450.6,103.8 449.9,104.3 449.2,104.7 448.5,105.1 447.8,105.6 447.0,106.0 446.3,106.4 445.6,106.9 444.9,107.4 444.1,108.0 443.4,108.5 442.7,109.0 441.9,109.5 441.2,110.0 440.4,110.5 439.7,111.0 438.9,111.5 438.2,112.0 437.4,112.5 436.7,113.0 435.9,113.5 435.1,113.9 434.4,114.4 433.6,114.9 432.8,115.3 432.0,115.8 431.2,116.2 430.5,116.6 429.7,117.1 428.9,117.5 428.1,117.9 427.3,118.3 426.5,118.7 425.7,119.1 424.9,119.5 424.1,119.9 423.2,120.2 422.4,120.6 421.6,121.0 420.8,121.3 420.0,121.7 419.1,122.0 418.3,122.3 417.5,122.7 416.6,123.0 415.8,123.3 414.9,123.6 414.1,123.9 413.2,124.2 412.4,124.5 411.5,124.8 410.7,125.1 409.8,125.4 409.0,125.7 408.1,125.9 407.3,126.2 406.4,126.5 405.5,126.7 404.7,127.0 403.8,127.3 403.0,127.5 402.1,127.8 401.2,128.1 400.4,128.3 399.5,128.6 398.6,128.9 397.8,129.1 396.9,129.4 396.1,129.7 395.2,130.0 394.3,130.2 393.5,130.5 392.6,130.8 391.8,131.1 390.9,131.4 390.1,131.7 389.2,132.0 388.4,132.3 387.5,132.6 386.7,132.9 385.8,133.2 385.0,133.5 384.1,133.9 383.3,134.2 382.5,134.5 381.6,134.9 380.8,135.2 380.0,135.5 379.1,135.9 378.3,136.3 377.5,136.6 376.7,137.0 375.9,137.4 375.0,137.7 374.2,138.1 373.4,138.5 372.6,138.9 371.8,139.3 371.0,139.6 370.2,140.0 369.3,140.4 368.5,140.8 367.7,141.2 366.9,141.6 366.1,142.0 365.3,142.4 364.5,142.8 363.7,143.2 363.0,143.6 362.2,144.0 361.4,144.4 360.6,144.9 359.8,145.3 359.0,145.7 358.2,146.2 357.5,146.6 356.7,147.0 355.9,147.5 355.1,147.9 354.4,148.4 353.6,148.8 352.8,149.3 352.1,149.8 351.3,150.2 350.6,150.7 349.8,151.2 349.1,151.7 348.3,152.2 347.6,152.6 346.8,153.2 346.1,153.7 345.4,154.2 344.7,154.7 343.9,155.2 343.2,155.7 342.5,156.3 341.8,156.8 341.1,157.4 340.4,157.9 339.8,158.5 339.1,159.1 338.4,159.7 337.7,160.3 337.1,160.8 336.4,161.4 335.8,162.0 335.1,162.6 334.5,163.2 333.8,163.8 333.2,164.4 332.5,165.1 331.9,165.7 331.2,166.3 330.6,166.9 329.9,167.5 329.3,168.1 328.6,168.7 327.9,169.2 327.3,169.8 326.6,170.4 325.9,171.0 325.3,171.5 324.6,172.1 323.9,172.7 323.2,173.2 322.5,173.8 321.8,174.3 321.1,174.8 320.4,175.4 319.7,175.9 319.0,176.4 318.3,176.9 317.6,177.4 316.8,177.9 316.1,178.5 315.4,178.9 314.6,179.4 313.9,179.9 313.2,180.4 312.4,180.9 311.7,181.4 310.9,181.9 310.2,182.3 309.4,182.8 308.7,183.3 307.9,183.7 307.1,184.2 306.4,184.6 305.6,185.1 304.8,185.6 304.1,186.0 303.3,186.4 302.5,186.9 301.7,187.3 301.0,187.8 300.2,188.2 299.4,188.7 298.6,189.1 297.9,189.6 297.1,190.0 296.3,190.5 295.5,191.0 294.7,191.4 293.9,191.9 293.2,192.3 292.4,192.7 291.6,193.2 290.8,193.6 290.0,194.0 289.2,194.5 288.4,194.9 287.6,195.3 286.8,195.7 286.0,196.1 285.2,196.5 284.4,196.9 283.6,197.2 282.8,197.6 281.9,198.0 281.1,198.3 280.3,198.6 Z" fill="#999999" fill-opacity="0.16" stroke="none"/>
<path d="M280.3,193.5 281.2,192.9 282.1,192.2 283.0,191.6 283.9,190.9 284.7,190.2 285.6,189.4 286.4,188.6 287.2,187.8 288.0,187.0 288.7,186.2 289.4,185.3 290.2,184.4 290.9,183.6 291.6,182.7 292.2,181.7 292.9,180.8 293.6,179.9 294.2,178.9 294.8,178.0 295.5,177.0 296.1,176.1 296.7,175.1 297.3,174.2 297.8,173.2 298.4,172.2 299.0,171.3 299.6,170.3 300.1,169.3 300.7,168.3 301.2,167.3 301.8,166.3 302.3,165.3 302.9,164.3 303.4,163.2 304.0,162.2 304.5,161.2 305.1,160.2 305.6,159.1 306.2,158.1 306.7,157.1 307.3,156.1 307.9,155.0 308.4,154.0 309.0,152.9 309.6,151.9 310.2,150.9 310.8,149.8 311.4,148.8 312.0,147.7 312.7,146.7 313.3,145.6 314.0,144.6 314.7,143.6 315.4,142.6 316.1,141.7 316.8,140.7 317.6,139.8 318.4,138.9 319.2,138.0 320.1,137.2 320.9,136.4 321.9,135.6 322.8,134.9 323.8,134.3 324.7,133.6 325.7,133.1 326.8,132.6 327.8,132.1 328.9,131.7 329.9,131.4 331.0,131.3 332.0,131.3 333.1,131.4 334.2,131.6 335.2,131.8 336.2,132.2 337.2,132.5 338.2,133.0 339.2,133.5 340.2,134.1 341.2,134.7 342.2,135.4 343.1,136.1 344.1,136.9 345.0,137.7 345.9,138.5 346.8,139.3 347.7,140.1 348.6,141.0 349.5,141.8 350.4,142.7 351.2,143.5 352.1,144.3 352.9,145.1 353.8,145.8 354.6,146.6 355.5,147.4 356.3,148.1 357.2,148.8 358.1,149.5 359.0,150.1 359.9,150.7 360.8,151.3 361.7,151.8 362.7,152.3 363.7,152.8 364.8,153.2 365.8,153.5 366.9,153.8 368.0,154.1 369.1,154.3 370.2,154.5 371.3,154.6 372.5,154.7 373.6,154.7 374.8,154.7 375.9,154.6 377.0,154.5 378.2,154.3 379.3,154.0 380.4,153.7 381.5,153.4 382.5,153.0 383.6,152.5 384.6,152.0 385.6,151.5 386.5,150.9 387.5,150.3 388.4,149.7 389.3,149.0 390.2,148.3 391.1,147.5 392.0,146.8 392.8,146.0 393.6,145.1 394.4,144.3 395.2,143.4 396.0,142.6 396.7,141.7 397.5,140.8 398.2,139.8 398.9,138.9 399.6,138.0 400.3,137.0 401.0,136.1 401.6,135.1 402.3,134.2 402.9,133.2 403.6,132.2 404.2,131.2 404.9,130.3 405.5,129.3 406.1,128.3 406.8,127.4 407.4,126.4 408.1,125.4 408.7,124.5 409.4,123.5 410.1,122.6 410.8,121.6 411.5,120.7 412.2,119.7 412.9,118.8 413.7,117.9 414.4,116.9 415.2,116.0 416.0,115.1 416.9,114.2 417.7,113.3 418.6,112.5 419.5,111.7 420.4,110.9 421.4,110.2 422.3,109.5 423.3,109.0 424.3,108.5 425.3,108.2 426.3,107.9 427.3,107.8 428.3,107.9 429.3,108.2 430.3,108.6 431.2,109.1 432.2,109.6 433.2,110.3 434.1,111.0 435.0,111.8 435.8,112.6 436.7,113.5 437.5,114.4 438.2,115.4 438.9,116.4 439.6,117.4 440.2,118.4 440.8,119.5 441.4,120.6 442.0,121.7 442.5,122.8 443.0,123.9 443.5,125.0 444.0,126.2 444.5,127.3 445.0,128.4 445.5,129.5 446.0,130.7 446.5,131.8 446.9,132.9 447.4,134.0 447.9,135.1 448.4,136.2 448.8,137.3 449.3,138.4 449.8,139.5 450.3,140.6 450.7,141.6 451.2,142.7 451.7,143.8 452.1,144.8 452.6,145.9 453.1,146.9 453.6,148.0 454.0,149.0 454.5,150.1 455.0,151.1 455.5,152.2 456.0,153.2 456.5,154.2 457.0,155.3 457.5,156.3 458.0,157.3 458.5,158.4 459.0,159.4 459.5,160.4 460.0,161.5 460.5,162.5 461.0,163.5 461.6,164.5 462.1,165.5 462.6,166.6 463.2,167.6 463.7,168.6 464.3,169.6 464.9,170.6 465.4,171.6 466.0,172.6 466.6,173.6 467.2,174.6 467.8,175.6 468.4,176.6 469.0,177.6 469.7,178.6 470.3,179.6 470.9,180.6 471.6,181.6 472.2,182.6 472.9,183.6 473.6,184.6 474.3,185.6 475.0,186.6 475.0,195.6 474.3,194.8 473.6,193.9 472.9,193.0 472.2,192.1 471.6,191.2 470.9,190.3 470.3,189.4 469.7,188.5 469.0,187.6 468.4,186.7 467.8,185.8 467.2,184.9 466.6,184.0 466.0,183.1 465.4,182.1 464.9,181.2 464.3,180.3 463.7,179.4 463.2,178.5 462.6,177.5 462.1,176.6 461.6,175.7 461.0,174.7 460.5,173.8 460.0,172.9 459.5,171.9 459.0,171.0 458.5,170.0 458.0,169.1 457.5,168.1 457.0,167.2 456.5,166.2 456.0,165.2 455.5,164.3 455.0,163.3 454.5,162.4 454.0,161.4 453.6,160.4 453.1,159.4 452.6,158.5 452.1,157.5 451.7,156.5 451.2,155.5 450.7,154.5 450.3,153.5 449.8,152.6 449.3,151.6 448.8,150.6 448.4,149.6 447.9,148.6 447.4,147.6 446.9,146.6 446.5,145.6 446.0,144.6 445.5,143.6 445.0,142.5 444.5,141.5 444.0,140.5 443.5,139.5 443.0,138.5 442.5,137.5 442.0,136.5 441.4,135.5 440.8,134.6 440.2,133.7 439.6,132.8 438.9,131.9 438.2,131.1 437.5,130.3 436.7,129.5 435.8,128.8 435.0,128.2 434.1,127.6 433.2,127.1 432.2,126.7 431.2,126.3 430.3,126.1 429.3,125.9 428.3,125.8 427.3,125.7 426.3,125.8 425.3,125.9 424.3,126.1 423.3,126.5 422.3,126.9 421.4,127.5 420.4,128.1 419.5,128.7 418.6,129.5 417.7,130.2 416.9,131.0 416.0,131.8 415.2,132.6 414.4,133.5 413.7,134.3 412.9,135.2 412.2,136.0 411.5,136.9 410.8,137.8 410.1,138.6 409.4,139.5 408.7,140.4 408.1,141.3 407.4,142.2 406.8,143.1 406.1,144.0 405.5,144.9 404.9,145.8 404.2,146.7 403.6,147.6 402.9,148.5 402.3,149.4 401.6,150.3 401.0,151.2 400.3,152.1 399.6,153.0 398.9,153.8 398.2,154.7 397.5,155.6 396.7,156.4 396.0,157.2 395.2,158.0 394.4,158.8 393.6,159.6 392.8,160.4 392.0,161.1 391.1,161.8 390.2,162.5 389.3,163.1 388.4,163.7 387.5,164.3 386.5,164.8 385.6,165.3 384.6,165.8 383.6,166.2 382.5,166.6 381.5,166.9 380.4,167.1 379.3,167.3 378.2,167.5 377.0,167.6 375.9,167.7 374.8,167.7 373.6,167.7 372.5,167.7 371.3,167.6 370.2,167.5 369.1,167.3 368.0,167.1 366.9,166.8 365.8,166.5 364.8,166.2 363.7,165.8 362.7,165.3 361.7,164.8 360.8,164.3 359.9,163.7 359.0,163.1 358.1,162.5 357.2,161.8 356.3,161.1 355.5,160.4 354.6,159.6 353.8,158.8 352.9,158.1 352.1,157.3 351.2,156.5 350.4,155.7 349.5,154.9 348.6,154.1 347.7,153.4 346.8,152.6 345.9,151.9 345.0,151.2 344.1,150.5 343.1,149.8 342.2,149.2 341.2,148.6 340.2,148.1 339.2,147.6 338.2,147.2 337.2,146.8 336.2,146.5 335.2,146.3 334.2,146.2 333.1,146.1 332.0,146.1 331.0,146.2 329.9,146.4 328.9,146.6 327.8,146.8 326.8,147.0 325.7,147.4 324.7,147.8 323.8,148.2 322.8,148.7 321.9,149.3 320.9,149.9 320.1,150.5 319.2,151.2 318.4,152.0 317.6,152.7 316.8,153.5 316.1,154.3 315.4,155.2 314.7,156.1 314.0,157.0 313.3,157.9 312.7,158.8 312.0,159.7 311.4,160.7 310.8,161.6 310.2,162.6 309.6,163.5 309.0,164.4 308.4,165.4 307.9,166.3 307.3,167.3 306.7,168.2 306.2,169.1 305.6,170.1 305.1,171.0 304.5,171.9 304.0,172.9 303.4,173.8 302.9,174.7 302.3,175.7 301.8,176.6 301.2,177.5 300.7,178.4 300.1,179.4 299.6,180.3 299.0,181.3 298.4,182.2 297.8,183.1 297.3,184.1 296.7,185.0 296.1,186.0 295.5,186.9 294.8,187.9 294.2,188.8 293.6,189.7 292.9,190.6 292.2,191.5 291.6,192.4 290.9,193.3 290.2,194.2 289.4,195.1 288.7,195.9 288.0,196.7 287.2,197.5 286.4,198.3 285.6,199.0 284.7,199.8 283.9,200.5 283.0,201.2 282.1,201.8 281.2,202.4 280.3,203.0 Z" fill="#999999" fill-opacity="0.16" stroke="none"/>
<path d="M280.3,208.2 281.6,207.6 282.8,207.0 284.0,206.2 285.0,205.4 286.1,204.6 287.0,203.7 287.9,202.7 288.8,201.7 289.6,200.7 290.3,199.6 291.0,198.5 291.7,197.3 292.4,196.2 293.0,195.0 293.6,193.7 294.1,192.5 294.6,191.3 295.1,190.0 295.6,188.7 296.1,187.5 296.5,186.2 297.0,184.9 297.4,183.6 297.8,182.3 298.2,181.0 298.5,179.7 298.9,178.4 299.2,177.1 299.6,175.8 299.9,174.5 300.2,173.2 300.5,171.8 300.8,170.4 301.1,169.1 301.4,167.7 301.7,166.3 302.0,165.0 302.2,163.6 302.5,162.2 302.8,160.9 303.0,159.5 303.3,158.1 303.5,156.8 303.8,155.4 304.1,154.0 304.3,152.6 304.6,151.3 304.8,149.9 305.1,148.5 305.4,147.2 305.6,145.8 305.9,144.4 306.2,143.0 306.5,141.7 306.7,140.3 307.0,138.9 307.3,137.6 307.6,136.2 307.9,134.8 308.1,133.5 308.4,132.1 308.7,130.7 309.0,129.4 309.2,128.0 309.5,126.6 309.8,125.3 310.1,123.9 310.4,122.5 310.6,121.2 310.9,119.8 311.2,118.4 311.5,117.1 311.7,115.7 312.0,114.4 312.3,113.0 312.5,111.6 312.8,110.3 313.2,108.9 313.5,107.5 313.9,106.2 314.4,104.8 314.9,103.4 315.5,102.1 316.2,100.7 317.0,99.3 317.8,98.2 318.7,97.6 319.5,97.6 320.4,98.3 321.1,99.5 321.8,100.8 322.5,102.2 323.1,103.6 323.6,105.0 324.1,106.4 324.5,107.7 325.0,109.1 325.3,110.5 325.7,111.8 326.0,113.2 326.4,114.6 326.7,115.9 327.0,117.3 327.3,118.7 327.6,120.0 327.8,121.4 328.1,122.8 328.4,124.1 328.7,125.5 328.9,126.9 329.2,128.2 329.4,129.6 329.7,131.0 330.0,132.3 330.2,133.7 330.5,135.1 330.7,136.4 331.0,137.8 331.3,139.2 331.5,140.6 331.8,141.9 332.1,143.3 332.4,144.7 332.7,146.1 333.0,147.4 333.3,148.8 333.6,150.2 333.9,151.6 334.2,152.9 334.5,154.3 334.9,155.7 335.2,157.1 335.5,158.4 335.9,159.8 336.2,161.2 336.6,162.5 336.9,163.9 337.2,165.3 337.6,166.6 337.9,168.0 338.2,169.3 338.5,170.6 338.9,172.0 339.2,173.3 339.5,174.6 339.9,176.0 340.2,177.3 340.6,178.6 340.9,180.0 341.3,181.3 341.7,182.6 342.0,183.9 342.4,185.3 342.9,186.6 343.3,188.0 343.7,189.3 344.2,190.7 344.7,192.0 345.2,193.4 345.8,194.7 346.4,196.0 347.0,197.3 347.6,198.5 348.4,199.7 349.1,200.8 349.9,201.9 350.8,203.0 351.7,204.0 352.7,204.9 353.7,205.7 354.8,206.5 355.9,207.2 357.1,207.9 358.4,208.5 359.6,209.1 360.9,209.5 362.2,210.0 363.6,210.4 364.9,210.8 366.3,211.1 367.6,211.4 369.0,211.6 370.4,211.9 371.7,212.1 373.1,212.2 374.5,212.4 375.8,212.5 377.2,212.6 378.6,212.6 380.0,212.7 381.3,212.7 382.7,212.7 384.1,212.7 385.5,212.7 386.9,212.7 388.3,212.6 389.6,212.6 391.0,212.5 392.4,212.5 393.8,212.4 395.2,212.4 396.6,212.3 398.0,212.3 399.3,212.2 400.7,212.1 402.1,212.1 403.5,212.1 404.9,212.0 406.3,212.0 407.7,212.0 409.0,211.9 410.4,211.9 411.8,211.9 413.2,211.8 414.6,211.8 415.9,211.8 417.3,211.8 418.7,211.8 420.1,211.8 421.5,211.8 422.8,211.8 424.2,211.8 425.6,211.8 427.0,211.8 428.4,211.8 429.7,211.8 431.1,211.8 432.5,211.8 433.9,211.8 435.3,211.9 436.6,211.9 438.0,211.9 439.4,211.9 440.8,211.9 442.2,211.9 443.5,212.0 444.9,212.0 446.3,212.0 447.7,212.0 449.0,212.1 450.4,212.1 451.8,212.1 453.2,212.1 454.6,212.2 455.9,212.2 457.3,212.2 458.7,212.3 460.1,212.3 461.5,212.3 462.9,212.3 464.2,212.4 465.6,212.4 467.0,212.4 468.4,212.5 469.8,212.5 471.2,212.5 472.5,212.5 473.9,212.6 475.3,212.6 475.3,214.6 473.9,214.6 472.5,214.5 471.2,214.5 469.8,214.5 468.4,214.5 467.0,214.4 465.6,214.4 464.2,214.4 462.9,214.3 461.5,214.3 460.1,214.3 458.7,214.3 457.3,214.2 455.9,214.2 454.6,214.2 453.2,214.1 451.8,214.1 450.4,214.1 449.0,214.1 447.7,214.0 446.3,214.0 444.9,214.0 443.5,214.0 442.2,213.9 440.8,213.9 439.4,213.9 438.0,213.9 436.6,213.9 435.3,213.9 433.9,213.8 432.5,213.8 431.1,213.8 429.7,213.8 428.4,213.8 427.0,213.8 425.6,213.8 424.2,213.8 422.8,213.8 421.5,213.8 420.1,213.8 418.7,213.8 417.3,213.8 415.9,213.8 414.6,213.8 413.2,213.8 411.8,213.9 410.4,213.9 409.0,213.9 407.7,214.0 406.3,214.0 404.9,214.0 403.5,214.1 402.1,214.1 400.7,214.1 399.3,214.2 398.0,214.3 396.6,214.3 395.2,214.4 393.8,214.4 392.4,214.5 391.0,214.5 389.6,214.6 388.3,214.6 386.9,214.7 385.5,214.7 384.1,214.7 382.7,214.7 381.3,214.7 380.0,214.7 378.6,214.6 377.2,214.6 375.8,214.5 374.5,214.4 373.1,214.2 371.7,214.1 370.4,213.9 369.0,213.6 367.6,213.4 366.3,213.1 364.9,212.8 363.6,212.4 362.2,212.0 360.9,211.5 359.6,211.1 358.4,210.5 357.1,209.9 355.9,209.2 354.8,208.5 353.7,207.7 352.7,206.9 351.7,206.0 350.8,205.0 349.9,203.9 349.1,202.8 348.4,201.7 347.6,200.5 347.0,199.3 346.4,198.0 345.8,196.7 345.2,195.4 344.7,194.0 344.2,192.7 343.7,191.3 343.3,190.0 342.9,188.6 342.4,187.3 342.0,185.9 341.7,184.6 341.3,183.3 340.9,182.0 340.6,180.6 340.2,179.3 339.9,178.0 339.5,176.7 339.2,175.4 338.9,174.1 338.5,172.8 338.2,171.5 337.9,170.2 337.6,168.8 337.2,167.5 336.9,166.2 336.6,164.9 336.2,163.5 335.9,162.2 335.5,160.9 335.2,159.5 334.9,158.2 334.5,156.8 334.2,155.5 333.9,154.1 333.6,152.8 333.3,151.5 333.0,150.1 332.7,148.8 332.4,147.4 332.1,146.1 331.8,144.7 331.5,143.4 331.3,142.0 331.0,140.7 330.7,139.3 330.5,138.0 330.2,136.6 330.0,135.3 329.7,133.9 329.4,132.6 329.2,131.3 328.9,129.9 328.7,128.6 328.4,127.2 328.1,125.9 327.8,124.5 327.6,123.2 327.3,121.9 327.0,120.5 326.7,119.2 326.4,117.9 326.0,116.5 325.7,115.2 325.3,113.9 325.0,112.5 324.5,111.2 324.1,109.9 323.6,108.5 323.1,107.2 322.5,105.9 321.8,104.6 321.1,103.3 320.4,102.2 319.5,101.6 318.7,101.6 317.8,102.2 317.0,103.2 316.2,104.5 315.5,105.9 314.9,107.2 314.4,108.6 313.9,109.9 313.5,111.2 313.2,112.6 312.8,113.9 312.5,115.3 312.3,116.6 312.0,118.0 311.7,119.3 311.5,120.7 311.2,122.0 310.9,123.4 310.6,124.7 310.4,126.1 310.1,127.4 309.8,128.8 309.5,130.1 309.2,131.5 309.0,132.8 308.7,134.2 308.4,135.5 308.1,136.9 307.9,138.2 307.6,139.6 307.3,140.9 307.0,142.3 306.7,143.7 306.5,145.0 306.2,146.4 305.9,147.7 305.6,149.1 305.4,150.4 305.1,151.8 304.8,153.1 304.6,154.5 304.3,155.9 304.1,157.2 303.8,158.6 303.5,159.9 303.3,161.3 303.0,162.7 302.8,164.0 302.5,165.4 302.2,166.7 302.0,168.1 301.7,169.4 301.4,170.8 301.1,172.1 300.8,173.5 300.5,174.8 300.2,176.2 299.9,177.5 299.6,178.8 299.2,180.2 298.9,181.5 298.5,182.8 298.2,184.2 297.8,185.5 297.4,186.8 297.0,188.1 296.5,189.5 296.1,190.8 295.6,192.1 295.1,193.4 294.6,194.7 294.1,196.0 293.6,197.2 293.0,198.5 292.4,199.7 291.7,201.0 291.0,202.2 290.3,203.3 289.6,204.5 288.8,205.6 287.9,206.6 287.0,207.7 286.1,208.6 285.0,209.6 284.0,210.4 282.8,211.2 281.6,212.0 280.3,212.7 Z" fill="#999999" fill-opacity="0.16" stroke="none"/>
<path d="M280.2,213.8 281.0,213.8 281.7,213.7 282.5,213.7 283.2,213.7 284.0,213.6 284.7,213.6 285.5,213.5 286.2,213.5 287.0,213.4 287.7,213.4 288.5,213.3 289.2,213.2 290.0,213.2 290.7,213.1 291.5,213.1 292.2,213.0 293.0,212.9 293.7,212.9 294.5,212.8 295.2,212.7 296.0,212.7 296.8,212.6 297.5,212.5 298.3,212.5 299.0,212.4 299.8,212.3 300.5,212.3 301.3,212.2 302.0,212.1 302.8,212.0 303.5,212.0 304.3,211.9 305.0,211.8 305.8,211.7 306.5,211.7 307.3,211.6 308.0,211.5 308.8,211.4 309.5,211.4 310.3,211.3 311.0,211.2 311.8,211.1 312.5,211.0 313.3,211.0 314.0,210.9 314.8,210.8 315.5,210.7 316.3,210.7 317.1,210.6 317.8,210.5 318.6,210.4 319.3,210.4 320.1,210.3 320.8,210.2 321.6,210.1 322.3,210.1 323.1,210.0 323.8,209.9 324.6,209.9 325.3,209.8 326.1,209.7 326.8,209.6 327.6,209.6 328.3,209.5 329.1,209.4 329.8,209.4 330.6,209.3 331.3,209.3 332.1,209.2 332.8,209.1 333.6,209.1 334.3,209.0 335.1,209.0 335.9,208.9 336.6,208.9 337.4,208.8 338.1,208.8 338.9,208.7 339.6,208.7 340.4,208.6 341.1,208.6 341.9,208.5 342.6,208.5 343.4,208.4 344.1,208.4 344.9,208.4 345.6,208.3 346.4,208.3 347.1,208.3 347.9,208.3 348.6,208.2 349.4,208.2 350.1,208.2 350.9,208.2 351.7,208.2 352.4,208.1 353.2,208.1 353.9,208.1 354.7,208.1 355.4,208.1 356.2,208.1 356.9,208.1 357.7,208.1 358.4,208.1 359.2,208.1 359.9,208.2 360.7,208.2 361.4,208.2 362.2,208.2 362.9,208.2 363.7,208.3 364.5,208.3 365.2,208.3 366.0,208.4 366.7,208.4 367.5,208.4 368.2,208.5 369.0,208.5 369.7,208.6 370.5,208.6 371.2,208.7 372.0,208.7 372.7,208.8 373.5,208.8 374.2,208.9 375.0,209.0 375.8,209.0 376.5,209.1 377.3,209.1 378.0,209.2 378.8,209.3 379.5,209.3 380.3,209.4 381.0,209.5 381.8,209.5 382.5,209.6 383.3,209.7 384.0,209.8 384.8,209.8 385.5,209.9 386.3,210.0 387.1,210.0 387.8,210.1 388.6,210.2 389.3,210.2 390.1,210.3 390.8,210.4 391.6,210.4 392.3,210.5 393.1,210.6 393.8,210.6 394.6,210.7 395.3,210.8 396.1,210.8 396.9,210.9 397.6,211.0 398.4,211.0 399.1,211.1 399.9,211.1 400.6,211.2 401.4,211.2 402.1,211.3 402.9,211.3 403.6,211.4 404.4,211.4 405.1,211.5 405.9,211.5 406.6,211.6 407.4,211.6 408.2,211.6 408.9,211.7 409.7,211.7 410.4,211.8 411.2,211.8 411.9,211.8 412.7,211.9 413.4,211.9 414.2,211.9 414.9,211.9 415.7,212.0 416.4,212.0 417.2,212.0 417.9,212.1 418.7,212.1 419.5,212.1 420.2,212.1 421.0,212.2 421.7,212.2 422.5,212.2 423.2,212.2 424.0,212.2 424.7,212.3 425.5,212.3 426.2,212.3 427.0,212.3 427.7,212.3 428.5,212.3 429.3,212.4 430.0,212.4 430.8,212.4 431.5,212.4 432.3,212.4 433.0,212.4 433.8,212.4 434.5,212.5 435.3,212.5 436.0,212.5 436.8,212.5 437.6,212.5 438.3,212.5 439.1,212.5 439.8,212.5 440.6,212.5 441.3,212.5 442.1,212.5 442.8,212.5 443.6,212.5 444.4,212.6 445.1,212.6 445.9,212.6 446.6,212.6 447.4,212.6 448.1,212.6 448.9,212.6 449.6,212.6 450.4,212.6 451.1,212.6 451.9,212.6 452.7,212.6 453.4,212.6 454.2,212.6 454.9,212.6 455.7,212.6 456.4,212.6 457.2,212.6 457.9,212.6 458.7,212.6 459.5,212.6 460.2,212.7 461.0,212.7 461.7,212.7 462.5,212.7 463.2,212.7 464.0,212.7 464.7,212.7 465.5,212.7 466.2,212.7 467.0,212.7 467.8,212.7 468.5,212.7 469.3,212.7 470.0,212.7 470.8,212.7 471.5,212.7 472.3,212.8 473.0,212.8 473.8,212.8 474.5,212.8 475.3,212.8" fill="none" stroke="#E69F00" stroke-width="1.45" stroke-linejoin="round" stroke-linecap="butt"/>
<path d="M280.3,194.6 281.1,194.3 281.9,194.0 282.8,193.6 283.6,193.2 284.4,192.9 285.2,192.5 286.0,192.1 286.8,191.7 287.6,191.3 288.4,190.9 289.2,190.5 290.0,190.0 290.8,189.6 291.6,189.2 292.4,188.7 293.2,188.3 293.9,187.9 294.7,187.4 295.5,187.0 296.3,186.5 297.1,186.0 297.9,185.6 298.6,185.1 299.4,184.7 300.2,184.2 301.0,183.7 301.7,183.3 302.5,182.8 303.3,182.3 304.1,181.9 304.8,181.4 305.6,180.9 306.4,180.4 307.1,180.0 307.9,179.5 308.7,179.0 309.4,178.5 310.2,178.0 310.9,177.5 311.7,177.0 312.4,176.5 313.2,176.0 313.9,175.5 314.6,175.0 315.4,174.4 316.1,173.9 316.8,173.4 317.6,172.9 318.3,172.3 319.0,171.8 319.7,171.2 320.4,170.7 321.1,170.1 321.8,169.6 322.5,169.0 323.2,168.4 323.9,167.9 324.6,167.3 325.3,166.7 325.9,166.1 326.6,165.5 327.3,164.9 327.9,164.3 328.6,163.7 329.3,163.1 329.9,162.5 330.6,161.9 331.2,161.2 331.9,160.6 332.5,160.0 333.2,159.4 333.8,158.7 334.5,158.1 335.1,157.5 335.8,156.9 336.4,156.3 337.1,155.7 337.7,155.1 338.4,154.5 339.1,153.9 339.8,153.3 340.4,152.7 341.1,152.1 341.8,151.5 342.5,151.0 343.2,150.4 343.9,149.9 344.7,149.3 345.4,148.8 346.1,148.3 346.8,147.7 347.6,147.2 348.3,146.7 349.1,146.2 349.8,145.7 350.6,145.2 351.3,144.7 352.1,144.2 352.8,143.7 353.6,143.2 354.4,142.8 355.1,142.3 355.9,141.8 356.7,141.4 357.5,140.9 358.2,140.4 359.0,140.0 359.8,139.5 360.6,139.1 361.4,138.7 362.2,138.2 363.0,137.8 363.7,137.4 364.5,136.9 365.3,136.5 366.1,136.1 366.9,135.7 367.7,135.3 368.5,134.8 369.3,134.4 370.2,134.0 371.0,133.6 371.8,133.3 372.6,132.9 373.4,132.5 374.2,132.1 375.0,131.7 375.9,131.4 376.7,131.0 377.5,130.6 378.3,130.3 379.1,129.9 380.0,129.5 380.8,129.2 381.6,128.9 382.5,128.5 383.3,128.2 384.1,127.9 385.0,127.5 385.8,127.2 386.7,126.9 387.5,126.6 388.4,126.3 389.2,126.0 390.1,125.7 390.9,125.4 391.8,125.1 392.6,124.8 393.5,124.5 394.3,124.2 395.2,124.0 396.1,123.7 396.9,123.4 397.8,123.1 398.6,122.9 399.5,122.6 400.4,122.3 401.2,122.1 402.1,121.8 403.0,121.5 403.8,121.3 404.7,121.0 405.5,120.7 406.4,120.5 407.3,120.2 408.1,119.9 409.0,119.7 409.8,119.4 410.7,119.1 411.5,118.8 412.4,118.5 413.2,118.2 414.1,117.9 414.9,117.6 415.8,117.3 416.6,117.0 417.5,116.7 418.3,116.3 419.1,116.0 420.0,115.7 420.8,115.3 421.6,115.0 422.4,114.6 423.2,114.2 424.1,113.9 424.9,113.5 425.7,113.1 426.5,112.7 427.3,112.3 428.1,111.9 428.9,111.5 429.7,111.1 430.5,110.6 431.2,110.2 432.0,109.8 432.8,109.3 433.6,108.9 434.4,108.4 435.1,107.9 435.9,107.5 436.7,107.0 437.4,106.5 438.2,106.0 438.9,105.5 439.7,105.0 440.4,104.5 441.2,104.0 441.9,103.5 442.7,103.0 443.4,102.5 444.1,102.0 444.9,101.4 445.6,100.9 446.3,100.4 447.0,99.8 447.8,99.3 448.5,98.7 449.2,98.2 449.9,97.6 450.6,97.0 451.3,96.5 452.0,95.9 452.7,95.3 453.4,94.7 454.1,94.1 454.8,93.6 455.4,93.0 456.1,92.4 456.8,91.8 457.5,91.2 458.1,90.5 458.8,89.9 459.5,89.3 460.1,88.7 460.8,88.1 461.4,87.5 462.1,86.8 462.7,86.2 463.4,85.6 464.0,84.9 464.7,84.3 465.3,83.6 465.9,83.0 466.5,82.4 467.2,81.7 467.8,81.1 468.4,80.4 469.0,79.7 469.6,79.1 470.2,78.4 470.8,77.8 471.4,77.1 472.0,76.4 472.6,75.8 473.2,75.1 473.8,74.4 474.4,73.7 475.0,73.1 475.6,72.4" fill="none" stroke="#56B4E9" stroke-width="1.45" stroke-linejoin="round" stroke-linecap="butt"/>
<path d="M280.3,198.5 281.2,197.9 282.1,197.2 283.0,196.6 283.9,195.9 284.7,195.2 285.6,194.4 286.4,193.6 287.2,192.8 288.0,192.0 288.7,191.2 289.4,190.3 290.2,189.4 290.9,188.6 291.6,187.7 292.2,186.7 292.9,185.8 293.6,184.9 294.2,183.9 294.8,183.0 295.5,182.0 296.1,181.1 296.7,180.1 297.3,179.2 297.8,178.2 298.4,177.2 299.0,176.3 299.6,175.3 300.1,174.4 300.7,173.4 301.2,172.4 301.8,171.5 302.3,170.5 302.9,169.5 303.4,168.6 304.0,167.6 304.5,166.6 305.1,165.7 305.6,164.7 306.2,163.7 306.7,162.8 307.3,161.8 307.9,160.8 308.4,159.8 309.0,158.8 309.6,157.9 310.2,156.9 310.8,155.9 311.4,154.9 312.0,153.9 312.7,152.9 313.3,152.0 314.0,151.0 314.7,150.1 315.4,149.2 316.1,148.3 316.8,147.4 317.6,146.5 318.4,145.7 319.2,144.9 320.1,144.2 320.9,143.5 321.9,142.8 322.8,142.2 323.8,141.6 324.7,141.1 325.7,140.7 326.8,140.2 327.8,139.9 328.9,139.6 329.9,139.4 331.0,139.3 332.0,139.2 333.1,139.3 334.2,139.4 335.2,139.6 336.2,139.8 337.2,140.2 338.2,140.6 339.2,141.1 340.2,141.6 341.2,142.2 342.2,142.8 343.1,143.5 344.1,144.2 345.0,144.9 345.9,145.7 346.8,146.4 347.7,147.2 348.6,148.0 349.5,148.9 350.4,149.7 351.2,150.5 352.1,151.3 352.9,152.1 353.8,152.8 354.6,153.6 355.5,154.4 356.3,155.1 357.2,155.8 358.1,156.5 359.0,157.1 359.9,157.7 360.8,158.3 361.7,158.8 362.7,159.3 363.7,159.8 364.8,160.2 365.8,160.5 366.9,160.8 368.0,161.1 369.1,161.3 370.2,161.5 371.3,161.6 372.5,161.7 373.6,161.7 374.8,161.7 375.9,161.7 377.0,161.5 378.2,161.4 379.3,161.2 380.4,160.9 381.5,160.6 382.5,160.3 383.6,159.9 384.6,159.4 385.6,158.9 386.5,158.4 387.5,157.8 388.4,157.2 389.3,156.6 390.2,155.9 391.1,155.2 392.0,154.4 392.8,153.7 393.6,152.9 394.4,152.1 395.2,151.2 396.0,150.4 396.7,149.5 397.5,148.7 398.2,147.8 398.9,146.9 399.6,146.0 400.3,145.1 401.0,144.2 401.6,143.2 402.3,142.3 402.9,141.4 403.6,140.5 404.2,139.5 404.9,138.6 405.5,137.7 406.1,136.8 406.8,135.9 407.4,134.9 408.1,134.0 408.7,133.1 409.4,132.2 410.1,131.3 410.8,130.4 411.5,129.5 412.2,128.6 412.9,127.7 413.7,126.8 414.4,126.0 415.2,125.1 416.0,124.3 416.9,123.4 417.7,122.6 418.6,121.8 419.5,121.1 420.4,120.3 421.4,119.7 422.3,119.1 423.3,118.7 424.3,118.3 425.3,118.0 426.3,117.8 427.3,117.8 428.3,117.8 429.3,118.0 430.3,118.3 431.2,118.6 432.2,119.1 433.2,119.6 434.1,120.2 435.0,120.8 435.8,121.5 436.7,122.3 437.5,123.1 438.2,124.0 438.9,124.9 439.6,125.8 440.2,126.8 440.8,127.7 441.4,128.7 442.0,129.8 442.5,130.8 443.0,131.9 443.5,132.9 444.0,134.0 444.5,135.0 445.0,136.1 445.5,137.1 446.0,138.2 446.5,139.3 446.9,140.3 447.4,141.3 447.9,142.4 448.4,143.4 448.8,144.5 449.3,145.5 449.8,146.5 450.3,147.6 450.7,148.6 451.2,149.6 451.7,150.6 452.1,151.7 452.6,152.7 453.1,153.7 453.6,154.7 454.0,155.7 454.5,156.7 455.0,157.7 455.5,158.7 456.0,159.7 456.5,160.7 457.0,161.7 457.5,162.7 458.0,163.7 458.5,164.7 459.0,165.7 459.5,166.7 460.0,167.7 460.5,168.6 461.0,169.6 461.6,170.6 462.1,171.6 462.6,172.5 463.2,173.5 463.7,174.5 464.3,175.4 464.9,176.4 465.4,177.4 466.0,178.3 466.6,179.3 467.2,180.3 467.8,181.2 468.4,182.2 469.0,183.1 469.7,184.1 470.3,185.0 470.9,186.0 471.6,186.9 472.2,187.9 472.9,188.8 473.6,189.8 474.3,190.7 475.0,191.6" fill="none" stroke="#009E73" stroke-width="1.45" stroke-linejoin="round" stroke-linecap="butt"/>
<path d="M280.3,211.2 281.6,210.5 282.8,209.7 284.0,208.9 285.0,208.1 286.1,207.1 287.0,206.2 287.9,205.1 288.8,204.1 289.6,203.0 290.3,201.8 291.0,200.7 291.7,199.5 292.4,198.2 293.0,197.0 293.6,195.7 294.1,194.5 294.6,193.2 295.1,191.9 295.6,190.6 296.1,189.3 296.5,188.0 297.0,186.6 297.4,185.3 297.8,184.0 298.2,182.7 298.5,181.3 298.9,180.0 299.2,178.7 299.6,177.3 299.9,176.0 300.2,174.7 300.5,173.3 300.8,172.0 301.1,170.6 301.4,169.3 301.7,167.9 302.0,166.6 302.2,165.2 302.5,163.9 302.8,162.5 303.0,161.2 303.3,159.8 303.5,158.4 303.8,157.1 304.1,155.7 304.3,154.4 304.6,153.0 304.8,151.6 305.1,150.3 305.4,148.9 305.6,147.6 305.9,146.2 306.2,144.9 306.5,143.5 306.7,142.2 307.0,140.8 307.3,139.4 307.6,138.1 307.9,136.7 308.1,135.4 308.4,134.0 308.7,132.7 309.0,131.3 309.2,130.0 309.5,128.6 309.8,127.3 310.1,125.9 310.4,124.6 310.6,123.2 310.9,121.9 311.2,120.5 311.5,119.2 311.7,117.8 312.0,116.5 312.3,115.1 312.5,113.8 312.8,112.4 313.2,111.1 313.5,109.7 313.9,108.4 314.4,107.1 314.9,105.7 315.5,104.4 316.2,103.0 317.0,101.7 317.8,100.7 318.7,100.1 319.5,100.1 320.4,100.8 321.1,101.8 321.8,103.1 322.5,104.5 323.1,105.8 323.6,107.2 324.1,108.5 324.5,109.8 325.0,111.2 325.3,112.5 325.7,113.9 326.0,115.2 326.4,116.5 326.7,117.9 327.0,119.2 327.3,120.6 327.6,121.9 327.8,123.3 328.1,124.6 328.4,126.0 328.7,127.3 328.9,128.6 329.2,130.0 329.4,131.3 329.7,132.7 330.0,134.0 330.2,135.4 330.5,136.7 330.7,138.1 331.0,139.5 331.3,140.8 331.5,142.2 331.8,143.5 332.1,144.9 332.4,146.2 332.7,147.6 333.0,148.9 333.3,150.3 333.6,151.6 333.9,153.0 334.2,154.4 334.5,155.7 334.9,157.1 335.2,158.4 335.5,159.8 335.9,161.1 336.2,162.5 336.6,163.8 336.9,165.1 337.2,166.5 337.6,167.8 337.9,169.1 338.2,170.4 338.5,171.7 338.9,173.1 339.2,174.4 339.5,175.7 339.9,177.0 340.2,178.3 340.6,179.6 340.9,181.0 341.3,182.3 341.7,183.6 342.0,184.9 342.4,186.3 342.9,187.6 343.3,189.0 343.7,190.3 344.2,191.7 344.7,193.0 345.2,194.4 345.8,195.7 346.4,197.0 347.0,198.3 347.6,199.5 348.4,200.7 349.1,201.8 349.9,202.9 350.8,204.0 351.7,205.0 352.7,205.9 353.7,206.7 354.8,207.5 355.9,208.2 357.1,208.9 358.4,209.5 359.6,210.1 360.9,210.5 362.2,211.0 363.6,211.4 364.9,211.8 366.3,212.1 367.6,212.4 369.0,212.6 370.4,212.9 371.7,213.1 373.1,213.2 374.5,213.4 375.8,213.5 377.2,213.6 378.6,213.6 380.0,213.7 381.3,213.7 382.7,213.7 384.1,213.7 385.5,213.7 386.9,213.7 388.3,213.6 389.6,213.6 391.0,213.5 392.4,213.5 393.8,213.4 395.2,213.4 396.6,213.3 398.0,213.3 399.3,213.2 400.7,213.1 402.1,213.1 403.5,213.1 404.9,213.0 406.3,213.0 407.7,213.0 409.0,212.9 410.4,212.9 411.8,212.9 413.2,212.8 414.6,212.8 415.9,212.8 417.3,212.8 418.7,212.8 420.1,212.8 421.5,212.8 422.8,212.8 424.2,212.8 425.6,212.8 427.0,212.8 428.4,212.8 429.7,212.8 431.1,212.8 432.5,212.8 433.9,212.8 435.3,212.9 436.6,212.9 438.0,212.9 439.4,212.9 440.8,212.9 442.2,212.9 443.5,213.0 444.9,213.0 446.3,213.0 447.7,213.0 449.0,213.1 450.4,213.1 451.8,213.1 453.2,213.1 454.6,213.2 455.9,213.2 457.3,213.2 458.7,213.3 460.1,213.3 461.5,213.3 462.9,213.3 464.2,213.4 465.6,213.4 467.0,213.4 468.4,213.5 469.8,213.5 471.2,213.5 472.5,213.5 473.9,213.6 475.3,213.6" fill="none" stroke="#0072B2" stroke-width="1.45" stroke-linejoin="round" stroke-linecap="butt"/>
</g>
<rect x="35.5" y="6.5" width="214.90" height="217.30" fill="none" stroke="#9a9a9a" stroke-width="1"/>
<rect x="270.6" y="6.5" width="214.90" height="217.30" fill="none" stroke="#9a9a9a" stroke-width="1"/>
<line x1="32.20" y1="214.30" x2="35.50" y2="214.30" stroke="#444444" stroke-width="1"/>
<line x1="267.30" y1="214.30" x2="270.60" y2="214.30" stroke="#444444" stroke-width="1"/>
<text x="29.4" y="216.65" text-anchor="end" class="tk">0.00</text>
<line x1="32.20" y1="164.72" x2="35.50" y2="164.72" stroke="#444444" stroke-width="1"/>
<line x1="267.30" y1="164.72" x2="270.60" y2="164.72" stroke="#444444" stroke-width="1"/>
<text x="29.4" y="167.06" text-anchor="end" class="tk">0.05</text>
<line x1="32.20" y1="115.13" x2="35.50" y2="115.13" stroke="#444444" stroke-width="1"/>
<line x1="267.30" y1="115.13" x2="270.60" y2="115.13" stroke="#444444" stroke-width="1"/>
<text x="29.4" y="117.48" text-anchor="end" class="tk">0.10</text>
<line x1="32.20" y1="65.55" x2="35.50" y2="65.55" stroke="#444444" stroke-width="1"/>
<line x1="267.30" y1="65.55" x2="270.60" y2="65.55" stroke="#444444" stroke-width="1"/>
<text x="29.4" y="67.90" text-anchor="end" class="tk">0.15</text>
<line x1="32.20" y1="15.96" x2="35.50" y2="15.96" stroke="#444444" stroke-width="1"/>
<line x1="267.30" y1="15.96" x2="270.60" y2="15.96" stroke="#444444" stroke-width="1"/>
<text x="29.4" y="18.31" text-anchor="end" class="tk">0.20</text>
<line x1="45.27" y1="223.80" x2="45.27" y2="226.60" stroke="#444444" stroke-width="1"/>
<text x="45.27" y="236.2" text-anchor="middle" class="tk">1960</text>
<line x1="94.11" y1="223.80" x2="94.11" y2="226.60" stroke="#444444" stroke-width="1"/>
<text x="94.11" y="236.2" text-anchor="middle" class="tk">1970</text>
<line x1="142.95" y1="223.80" x2="142.95" y2="226.60" stroke="#444444" stroke-width="1"/>
<text x="142.95" y="236.2" text-anchor="middle" class="tk">1980</text>
<line x1="191.79" y1="223.80" x2="191.79" y2="226.60" stroke="#444444" stroke-width="1"/>
<text x="191.79" y="236.2" text-anchor="middle" class="tk">1990</text>
<line x1="240.63" y1="223.80" x2="240.63" y2="226.60" stroke="#444444" stroke-width="1"/>
<text x="240.63" y="236.2" text-anchor="middle" class="tk">2000</text>
<line x1="280.37" y1="223.80" x2="280.37" y2="226.60" stroke="#444444" stroke-width="1"/>
<text x="280.37" y="236.2" text-anchor="middle" class="tk">1999</text>
<line x1="329.21" y1="223.80" x2="329.21" y2="226.60" stroke="#444444" stroke-width="1"/>
<text x="329.21" y="236.2" text-anchor="middle" class="tk">2004</text>
<line x1="378.05" y1="223.80" x2="378.05" y2="226.60" stroke="#444444" stroke-width="1"/>
<text x="378.05" y="236.2" text-anchor="middle" class="tk">2009</text>
<line x1="426.89" y1="223.80" x2="426.89" y2="226.60" stroke="#444444" stroke-width="1"/>
<text x="426.89" y="236.2" text-anchor="middle" class="tk">2014</text>
<line x1="475.73" y1="223.80" x2="475.73" y2="226.60" stroke="#444444" stroke-width="1"/>
<text x="475.73" y="236.2" text-anchor="middle" class="tk">2019</text>
<text x="243.4" y="19.6" text-anchor="end" class="tag">(a)</text>
<text x="478.4" y="19.6" text-anchor="end" class="tag">(b)</text>
<text x="262.2" y="249.2" text-anchor="middle" class="at">Year</text>
<text transform="translate(8.2,114.3) rotate(-90)" text-anchor="middle" class="at" style="font-size:9.55px;stroke-width:0.05px">Probability of enterovirus occurrence</text>
<text x="495.3" y="86.0" class="lt">Virus group</text>
<rect x="495.2" y="92.30" width="14.0" height="15.03" fill="#EDEDED" stroke="#ffffff" stroke-width="1"/>
<line x1="496.2" y1="99.81" x2="508.3" y2="99.81" stroke="#E69F00" stroke-width="1.6"/>
<text x="515.0" y="103.02" class="lg">CVA</text>
<rect x="495.2" y="107.33" width="14.0" height="15.03" fill="#EDEDED" stroke="#ffffff" stroke-width="1"/>
<line x1="496.2" y1="114.84" x2="508.3" y2="114.84" stroke="#56B4E9" stroke-width="1.6"/>
<text x="515.0" y="118.05" class="lg">CVB</text>
<rect x="495.2" y="122.36" width="14.0" height="15.03" fill="#EDEDED" stroke="#ffffff" stroke-width="1"/>
<line x1="496.2" y1="129.88" x2="508.3" y2="129.88" stroke="#009E73" stroke-width="1.6"/>
<text x="515.0" y="133.07" class="lg">E</text>
<rect x="495.2" y="137.39" width="14.0" height="15.03" fill="#EDEDED" stroke="#ffffff" stroke-width="1"/>
<line x1="496.2" y1="144.90" x2="508.3" y2="144.90" stroke="#0072B2" stroke-width="1.6"/>
<text x="515.0" y="148.10" class="lg">PV</text>
</svg>
</body></html>
